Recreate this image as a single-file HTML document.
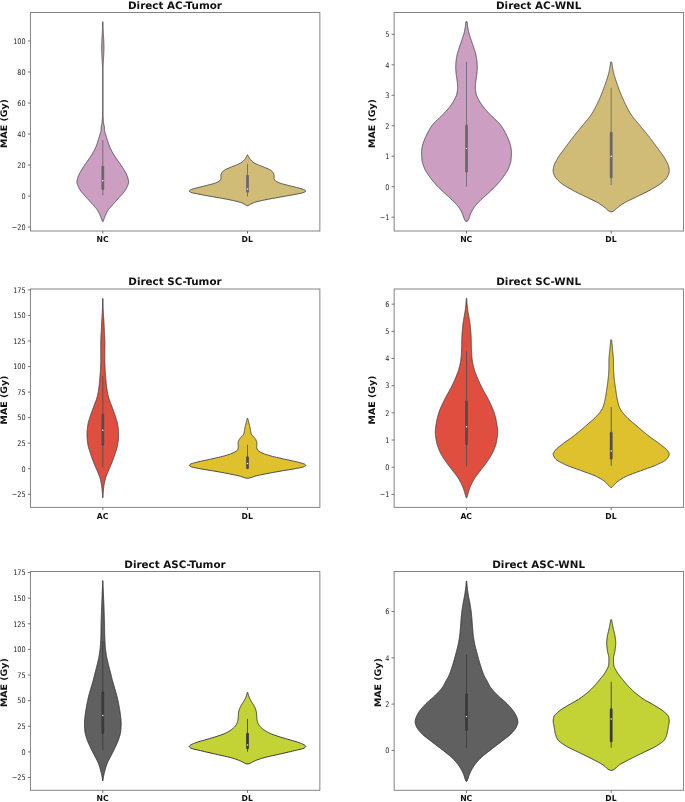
<!DOCTYPE html>
<html lang="en"><head><meta charset="utf-8"><title>Violin plots</title>
<style>
html,body{margin:0;padding:0;background:#fff;}
body{width:685px;height:802px;overflow:hidden;}
svg{display:block;}
text{font-family:"DejaVu Sans", "Liberation Sans", sans-serif;text-rendering:geometricPrecision;}
.t{font-size:10.3px;font-weight:bold;fill:#111;text-anchor:middle;}
.yl{font-size:9px;font-weight:bold;fill:#111;text-anchor:middle;}
.xl{font-size:8.1px;font-weight:bold;fill:#111;text-anchor:middle;}
.yt{font-size:7.6px;fill:#262626;text-anchor:end;}
</style></head><body>
<svg width="685" height="802" viewBox="0 0 685 802">
<rect width="685" height="802" fill="#fff"/>
<g id="a1">
<path d="M102.65 21.81 L102.65 22.31 L102.65 22.81 L102.65 23.31 L102.65 23.81 L102.65 24.31 L102.64 24.81 L102.63 25.31 L102.61 25.81 L102.59 26.31 L102.57 26.81 L102.56 27.31 L102.54 27.81 L102.52 28.31 L102.50 28.81 L102.48 29.31 L102.46 29.81 L102.43 30.31 L102.41 30.81 L102.39 31.31 L102.37 31.81 L102.34 32.31 L102.31 32.81 L102.28 33.31 L102.25 33.81 L102.21 34.31 L102.18 34.81 L102.14 35.31 L102.11 35.81 L102.08 36.31 L102.04 36.81 L102.01 37.31 L101.98 37.81 L101.96 38.31 L101.93 38.81 L101.91 39.31 L101.89 39.81 L101.87 40.31 L101.85 40.81 L101.83 41.31 L101.81 41.81 L101.79 42.31 L101.77 42.81 L101.75 43.31 L101.73 43.81 L101.72 44.31 L101.70 44.81 L101.69 45.31 L101.68 45.81 L101.67 46.31 L101.67 46.81 L101.67 47.31 L101.67 47.81 L101.67 48.31 L101.68 48.81 L101.69 49.31 L101.70 49.81 L101.71 50.31 L101.73 50.81 L101.74 51.31 L101.76 51.81 L101.78 52.31 L101.80 52.81 L101.82 53.31 L101.84 53.81 L101.86 54.31 L101.88 54.81 L101.90 55.31 L101.92 55.81 L101.94 56.31 L101.97 56.81 L101.99 57.31 L102.02 57.81 L102.05 58.31 L102.09 58.81 L102.12 59.31 L102.15 59.81 L102.18 60.31 L102.22 60.81 L102.25 61.31 L102.29 61.81 L102.32 62.31 L102.35 62.81 L102.38 63.31 L102.41 63.81 L102.43 64.31 L102.46 64.81 L102.48 65.31 L102.50 65.81 L102.52 66.31 L102.54 66.81 L102.56 67.31 L102.58 67.81 L102.60 68.31 L102.61 68.81 L102.63 69.31 L102.63 69.81 L102.64 70.31 L102.64 70.81 L102.65 71.31 L102.65 71.81 L102.65 72.31 L102.65 72.81 L102.65 73.31 L102.65 73.81 L102.65 74.31 L102.65 74.81 L102.65 75.31 L102.65 75.81 L102.65 76.31 L102.65 76.81 L102.65 77.31 L102.65 77.81 L102.65 78.31 L102.65 78.81 L102.65 79.31 L102.65 79.81 L102.65 80.31 L102.65 80.81 L102.65 81.31 L102.65 81.81 L102.65 82.31 L102.65 82.81 L102.65 83.31 L102.65 83.81 L102.65 84.31 L102.65 84.81 L102.65 85.31 L102.65 85.81 L102.65 86.31 L102.65 86.81 L102.65 87.31 L102.65 87.81 L102.65 88.31 L102.65 88.81 L102.65 89.31 L102.65 89.81 L102.65 90.31 L102.65 90.81 L102.65 91.31 L102.65 91.81 L102.65 92.31 L102.65 92.81 L102.65 93.31 L102.65 93.81 L102.65 94.31 L102.65 94.81 L102.65 95.31 L102.65 95.81 L102.65 96.31 L102.65 96.81 L102.65 97.31 L102.65 97.81 L102.65 98.31 L102.65 98.81 L102.65 99.31 L102.65 99.81 L102.65 100.31 L102.65 100.81 L102.65 101.31 L102.65 101.81 L102.65 102.31 L102.65 102.81 L102.65 103.31 L102.65 103.81 L102.65 104.31 L102.65 104.81 L102.65 105.31 L102.65 105.81 L102.65 106.31 L102.65 106.81 L102.65 107.31 L102.64 107.81 L102.64 108.31 L102.64 108.81 L102.63 109.31 L102.63 109.81 L102.62 110.31 L102.62 110.81 L102.61 111.31 L102.61 111.81 L102.60 112.31 L102.60 112.81 L102.59 113.31 L102.58 113.81 L102.56 114.31 L102.55 114.81 L102.53 115.31 L102.51 115.81 L102.49 116.31 L102.47 116.81 L102.44 117.31 L102.42 117.81 L102.39 118.31 L102.36 118.81 L102.33 119.31 L102.30 119.81 L102.27 120.31 L102.23 120.81 L102.19 121.31 L102.14 121.81 L102.09 122.31 L102.03 122.81 L101.97 123.31 L101.90 123.81 L101.81 124.31 L101.69 124.81 L101.56 125.31 L101.43 125.81 L101.32 126.31 L101.24 126.81 L101.19 127.31 L101.18 127.81 L101.17 128.31 L101.16 128.81 L101.16 129.31 L101.14 129.81 L101.12 130.31 L101.05 130.81 L100.94 131.31 L100.81 131.81 L100.66 132.31 L100.50 132.81 L100.33 133.31 L100.17 133.81 L100.02 134.31 L99.88 134.81 L99.73 135.31 L99.59 135.81 L99.44 136.31 L99.29 136.81 L99.13 137.31 L98.98 137.81 L98.82 138.31 L98.67 138.81 L98.51 139.31 L98.36 139.81 L98.20 140.31 L98.05 140.81 L97.89 141.31 L97.73 141.81 L97.56 142.31 L97.40 142.81 L97.22 143.31 L97.05 143.81 L96.87 144.31 L96.69 144.81 L96.50 145.31 L96.31 145.81 L96.12 146.31 L95.92 146.81 L95.71 147.31 L95.49 147.81 L95.26 148.31 L95.03 148.81 L94.78 149.31 L94.53 149.81 L94.28 150.31 L94.01 150.81 L93.75 151.31 L93.48 151.81 L93.20 152.31 L92.92 152.81 L92.63 153.31 L92.34 153.81 L92.04 154.31 L91.73 154.81 L91.42 155.31 L91.10 155.81 L90.78 156.31 L90.45 156.81 L90.11 157.31 L89.76 157.81 L89.41 158.31 L89.05 158.81 L88.69 159.31 L88.33 159.81 L87.98 160.31 L87.63 160.81 L87.27 161.31 L86.92 161.81 L86.57 162.31 L86.21 162.81 L85.86 163.31 L85.51 163.81 L85.16 164.31 L84.82 164.81 L84.49 165.31 L84.15 165.81 L83.82 166.31 L83.50 166.81 L83.17 167.31 L82.86 167.81 L82.54 168.31 L82.23 168.81 L81.93 169.31 L81.63 169.81 L81.33 170.31 L81.03 170.81 L80.74 171.31 L80.45 171.81 L80.17 172.31 L79.91 172.81 L79.65 173.31 L79.41 173.81 L79.17 174.31 L78.94 174.81 L78.71 175.31 L78.48 175.81 L78.27 176.31 L78.08 176.81 L77.91 177.31 L77.76 177.81 L77.64 178.31 L77.52 178.81 L77.41 179.31 L77.30 179.81 L77.20 180.31 L77.12 180.81 L77.05 181.31 L77.00 181.81 L76.97 182.31 L76.99 182.81 L77.10 183.31 L77.28 183.81 L77.47 184.31 L77.64 184.81 L77.83 185.31 L78.02 185.81 L78.23 186.31 L78.45 186.81 L78.68 187.31 L78.93 187.81 L79.18 188.31 L79.45 188.81 L79.73 189.31 L80.04 189.81 L80.37 190.31 L80.72 190.81 L81.08 191.31 L81.45 191.81 L81.84 192.31 L82.23 192.81 L82.62 193.31 L83.04 193.81 L83.47 194.31 L83.92 194.81 L84.38 195.31 L84.84 195.81 L85.31 196.31 L85.78 196.81 L86.24 197.31 L86.69 197.81 L87.14 198.31 L87.59 198.81 L88.04 199.31 L88.49 199.81 L88.94 200.31 L89.39 200.81 L89.84 201.31 L90.29 201.81 L90.74 202.31 L91.20 202.81 L91.66 203.31 L92.11 203.81 L92.57 204.31 L93.02 204.81 L93.47 205.31 L93.91 205.81 L94.34 206.31 L94.77 206.81 L95.20 207.31 L95.63 207.81 L96.06 208.31 L96.47 208.81 L96.87 209.31 L97.24 209.81 L97.59 210.31 L97.91 210.81 L98.20 211.31 L98.47 211.81 L98.73 212.31 L98.97 212.81 L99.21 213.31 L99.44 213.81 L99.67 214.31 L99.90 214.81 L100.13 215.31 L100.36 215.81 L100.58 216.31 L100.80 216.81 L101.00 217.31 L101.19 217.81 L101.37 218.31 L101.54 218.81 L101.70 219.31 L101.86 219.81 L102.02 220.31 L102.19 220.81 L102.35 221.31 L102.36 221.33 L103.24 221.33 L103.25 221.31 L103.41 220.81 L103.58 220.31 L103.74 219.81 L103.90 219.31 L104.06 218.81 L104.23 218.31 L104.41 217.81 L104.60 217.31 L104.80 216.81 L105.02 216.31 L105.24 215.81 L105.47 215.31 L105.70 214.81 L105.93 214.31 L106.16 213.81 L106.39 213.31 L106.63 212.81 L106.87 212.31 L107.13 211.81 L107.40 211.31 L107.69 210.81 L108.01 210.31 L108.36 209.81 L108.73 209.31 L109.13 208.81 L109.54 208.31 L109.97 207.81 L110.40 207.31 L110.83 206.81 L111.26 206.31 L111.69 205.81 L112.13 205.31 L112.58 204.81 L113.03 204.31 L113.49 203.81 L113.94 203.31 L114.40 202.81 L114.86 202.31 L115.31 201.81 L115.76 201.31 L116.21 200.81 L116.66 200.31 L117.11 199.81 L117.56 199.31 L118.01 198.81 L118.46 198.31 L118.91 197.81 L119.36 197.31 L119.82 196.81 L120.29 196.31 L120.76 195.81 L121.22 195.31 L121.68 194.81 L122.13 194.31 L122.56 193.81 L122.98 193.31 L123.37 192.81 L123.76 192.31 L124.15 191.81 L124.52 191.31 L124.88 190.81 L125.23 190.31 L125.56 189.81 L125.87 189.31 L126.15 188.81 L126.42 188.31 L126.67 187.81 L126.92 187.31 L127.15 186.81 L127.37 186.31 L127.58 185.81 L127.77 185.31 L127.96 184.81 L128.13 184.31 L128.32 183.81 L128.50 183.31 L128.61 182.81 L128.63 182.31 L128.60 181.81 L128.55 181.31 L128.48 180.81 L128.40 180.31 L128.30 179.81 L128.19 179.31 L128.08 178.81 L127.96 178.31 L127.84 177.81 L127.69 177.31 L127.52 176.81 L127.33 176.31 L127.12 175.81 L126.89 175.31 L126.66 174.81 L126.43 174.31 L126.19 173.81 L125.95 173.31 L125.69 172.81 L125.43 172.31 L125.15 171.81 L124.86 171.31 L124.57 170.81 L124.27 170.31 L123.97 169.81 L123.67 169.31 L123.37 168.81 L123.06 168.31 L122.74 167.81 L122.43 167.31 L122.10 166.81 L121.78 166.31 L121.45 165.81 L121.11 165.31 L120.78 164.81 L120.44 164.31 L120.09 163.81 L119.74 163.31 L119.39 162.81 L119.03 162.31 L118.68 161.81 L118.33 161.31 L117.97 160.81 L117.62 160.31 L117.27 159.81 L116.91 159.31 L116.55 158.81 L116.19 158.31 L115.84 157.81 L115.49 157.31 L115.15 156.81 L114.82 156.31 L114.50 155.81 L114.18 155.31 L113.87 154.81 L113.56 154.31 L113.26 153.81 L112.97 153.31 L112.68 152.81 L112.40 152.31 L112.12 151.81 L111.85 151.31 L111.59 150.81 L111.32 150.31 L111.07 149.81 L110.82 149.31 L110.57 148.81 L110.34 148.31 L110.11 147.81 L109.89 147.31 L109.68 146.81 L109.48 146.31 L109.29 145.81 L109.10 145.31 L108.91 144.81 L108.73 144.31 L108.55 143.81 L108.38 143.31 L108.20 142.81 L108.04 142.31 L107.87 141.81 L107.71 141.31 L107.55 140.81 L107.40 140.31 L107.24 139.81 L107.09 139.31 L106.93 138.81 L106.78 138.31 L106.62 137.81 L106.47 137.31 L106.31 136.81 L106.16 136.31 L106.01 135.81 L105.87 135.31 L105.72 134.81 L105.58 134.31 L105.43 133.81 L105.27 133.31 L105.10 132.81 L104.94 132.31 L104.79 131.81 L104.66 131.31 L104.55 130.81 L104.48 130.31 L104.46 129.81 L104.44 129.31 L104.44 128.81 L104.43 128.31 L104.42 127.81 L104.41 127.31 L104.36 126.81 L104.28 126.31 L104.17 125.81 L104.04 125.31 L103.91 124.81 L103.79 124.31 L103.70 123.81 L103.63 123.31 L103.57 122.81 L103.51 122.31 L103.46 121.81 L103.41 121.31 L103.37 120.81 L103.33 120.31 L103.30 119.81 L103.27 119.31 L103.24 118.81 L103.21 118.31 L103.18 117.81 L103.16 117.31 L103.13 116.81 L103.11 116.31 L103.09 115.81 L103.07 115.31 L103.05 114.81 L103.04 114.31 L103.02 113.81 L103.01 113.31 L103.00 112.81 L103.00 112.31 L102.99 111.81 L102.99 111.31 L102.98 110.81 L102.98 110.31 L102.97 109.81 L102.97 109.31 L102.96 108.81 L102.96 108.31 L102.96 107.81 L102.95 107.31 L102.95 106.81 L102.95 106.31 L102.95 105.81 L102.95 105.31 L102.95 104.81 L102.95 104.31 L102.95 103.81 L102.95 103.31 L102.95 102.81 L102.95 102.31 L102.95 101.81 L102.95 101.31 L102.95 100.81 L102.95 100.31 L102.95 99.81 L102.95 99.31 L102.95 98.81 L102.95 98.31 L102.95 97.81 L102.95 97.31 L102.95 96.81 L102.95 96.31 L102.95 95.81 L102.95 95.31 L102.95 94.81 L102.95 94.31 L102.95 93.81 L102.95 93.31 L102.95 92.81 L102.95 92.31 L102.95 91.81 L102.95 91.31 L102.95 90.81 L102.95 90.31 L102.95 89.81 L102.95 89.31 L102.95 88.81 L102.95 88.31 L102.95 87.81 L102.95 87.31 L102.95 86.81 L102.95 86.31 L102.95 85.81 L102.95 85.31 L102.95 84.81 L102.95 84.31 L102.95 83.81 L102.95 83.31 L102.95 82.81 L102.95 82.31 L102.95 81.81 L102.95 81.31 L102.95 80.81 L102.95 80.31 L102.95 79.81 L102.95 79.31 L102.95 78.81 L102.95 78.31 L102.95 77.81 L102.95 77.31 L102.95 76.81 L102.95 76.31 L102.95 75.81 L102.95 75.31 L102.95 74.81 L102.95 74.31 L102.95 73.81 L102.95 73.31 L102.95 72.81 L102.95 72.31 L102.95 71.81 L102.95 71.31 L102.96 70.81 L102.96 70.31 L102.97 69.81 L102.97 69.31 L102.99 68.81 L103.00 68.31 L103.02 67.81 L103.04 67.31 L103.06 66.81 L103.08 66.31 L103.10 65.81 L103.12 65.31 L103.14 64.81 L103.17 64.31 L103.19 63.81 L103.22 63.31 L103.25 62.81 L103.28 62.31 L103.31 61.81 L103.35 61.31 L103.38 60.81 L103.42 60.31 L103.45 59.81 L103.48 59.31 L103.51 58.81 L103.55 58.31 L103.58 57.81 L103.61 57.31 L103.63 56.81 L103.66 56.31 L103.68 55.81 L103.70 55.31 L103.72 54.81 L103.74 54.31 L103.76 53.81 L103.78 53.31 L103.80 52.81 L103.82 52.31 L103.84 51.81 L103.86 51.31 L103.87 50.81 L103.89 50.31 L103.90 49.81 L103.91 49.31 L103.92 48.81 L103.93 48.31 L103.93 47.81 L103.93 47.31 L103.93 46.81 L103.93 46.31 L103.92 45.81 L103.91 45.31 L103.90 44.81 L103.88 44.31 L103.87 43.81 L103.85 43.31 L103.83 42.81 L103.81 42.31 L103.79 41.81 L103.77 41.31 L103.75 40.81 L103.73 40.31 L103.71 39.81 L103.69 39.31 L103.67 38.81 L103.64 38.31 L103.62 37.81 L103.59 37.31 L103.56 36.81 L103.52 36.31 L103.49 35.81 L103.46 35.31 L103.42 34.81 L103.39 34.31 L103.35 33.81 L103.32 33.31 L103.29 32.81 L103.26 32.31 L103.23 31.81 L103.21 31.31 L103.19 30.81 L103.17 30.31 L103.14 29.81 L103.12 29.31 L103.10 28.81 L103.08 28.31 L103.06 27.81 L103.04 27.31 L103.03 26.81 L103.01 26.31 L102.99 25.81 L102.97 25.31 L102.96 24.81 L102.95 24.31 L102.95 23.81 L102.95 23.31 L102.95 22.81 L102.95 22.31 L102.95 21.81 Z" fill="#CB9EC2" stroke="#505050" stroke-width="0.95" stroke-linejoin="round"/>
<line x1="102.80" x2="102.80" y1="140.00" y2="195.40" stroke="#686868" stroke-width="0.85"/>
<line x1="102.80" x2="102.80" y1="167.10" y2="188.80" stroke="#686868" stroke-width="2.75" stroke-linecap="round"/>
<circle cx="102.80" cy="180.70" r="0.75" fill="#fff"/>
<path d="M247.19 154.90 L247.02 155.40 L246.82 155.90 L246.59 156.40 L246.33 156.90 L246.05 157.40 L245.75 157.90 L245.44 158.40 L245.11 158.90 L244.75 159.40 L244.37 159.90 L243.94 160.40 L243.47 160.90 L242.95 161.40 L242.38 161.90 L241.70 162.40 L240.86 162.90 L239.88 163.40 L238.81 163.90 L237.69 164.40 L236.55 164.90 L235.41 165.40 L234.17 165.90 L232.87 166.40 L231.58 166.90 L230.33 167.40 L229.15 167.90 L227.94 168.40 L226.77 168.90 L225.72 169.40 L224.85 169.90 L224.12 170.40 L223.44 170.90 L222.85 171.40 L222.36 171.90 L221.99 172.40 L221.74 172.90 L221.50 173.40 L221.28 173.90 L221.11 174.40 L220.99 174.90 L220.93 175.40 L220.93 175.90 L220.93 176.40 L220.93 176.90 L220.93 177.40 L220.93 177.90 L220.93 178.40 L220.90 178.90 L220.69 179.40 L220.35 179.90 L219.93 180.40 L219.45 180.90 L218.74 181.40 L217.83 181.90 L216.77 182.40 L215.62 182.90 L214.25 183.40 L212.59 183.90 L210.74 184.40 L208.77 184.90 L206.79 185.40 L204.86 185.90 L202.84 186.40 L200.74 186.90 L198.65 187.40 L196.67 187.90 L194.89 188.40 L193.13 188.90 L191.48 189.40 L190.29 189.90 L189.67 190.40 L189.29 190.90 L189.41 191.40 L190.11 191.90 L191.09 192.40 L192.59 192.90 L194.83 193.40 L197.44 193.90 L200.06 194.40 L202.62 194.90 L205.36 195.40 L208.20 195.90 L211.08 196.40 L213.93 196.90 L216.69 197.40 L219.48 197.90 L222.29 198.40 L225.05 198.90 L227.70 199.40 L230.17 199.90 L232.47 200.40 L234.74 200.90 L236.91 201.40 L238.87 201.90 L240.54 202.40 L241.86 202.90 L242.96 203.40 L243.91 203.90 L244.79 204.40 L245.66 204.90 L246.46 205.40 L246.89 205.69 L248.11 205.69 L248.54 205.40 L249.34 204.90 L250.21 204.40 L251.09 203.90 L252.04 203.40 L253.14 202.90 L254.46 202.40 L256.13 201.90 L258.09 201.40 L260.26 200.90 L262.53 200.40 L264.83 199.90 L267.30 199.40 L269.95 198.90 L272.71 198.40 L275.52 197.90 L278.31 197.40 L281.07 196.90 L283.92 196.40 L286.80 195.90 L289.64 195.40 L292.38 194.90 L294.94 194.40 L297.56 193.90 L300.17 193.40 L302.41 192.90 L303.91 192.40 L304.89 191.90 L305.59 191.40 L305.71 190.90 L305.33 190.40 L304.71 189.90 L303.52 189.40 L301.87 188.90 L300.11 188.40 L298.33 187.90 L296.35 187.40 L294.26 186.90 L292.16 186.40 L290.14 185.90 L288.21 185.40 L286.23 184.90 L284.26 184.40 L282.41 183.90 L280.75 183.40 L279.38 182.90 L278.23 182.40 L277.17 181.90 L276.26 181.40 L275.55 180.90 L275.07 180.40 L274.65 179.90 L274.31 179.40 L274.10 178.90 L274.07 178.40 L274.07 177.90 L274.07 177.40 L274.07 176.90 L274.07 176.40 L274.07 175.90 L274.07 175.40 L274.01 174.90 L273.89 174.40 L273.72 173.90 L273.50 173.40 L273.26 172.90 L273.01 172.40 L272.64 171.90 L272.15 171.40 L271.56 170.90 L270.88 170.40 L270.15 169.90 L269.28 169.40 L268.23 168.90 L267.06 168.40 L265.85 167.90 L264.67 167.40 L263.42 166.90 L262.13 166.40 L260.83 165.90 L259.59 165.40 L258.45 164.90 L257.31 164.40 L256.19 163.90 L255.12 163.40 L254.14 162.90 L253.30 162.40 L252.62 161.90 L252.05 161.40 L251.53 160.90 L251.06 160.40 L250.63 159.90 L250.25 159.40 L249.89 158.90 L249.56 158.40 L249.25 157.90 L248.95 157.40 L248.67 156.90 L248.41 156.40 L248.18 155.90 L247.98 155.40 L247.81 154.90 Z" fill="#D0BC76" stroke="#505050" stroke-width="0.95" stroke-linejoin="round"/>
<line x1="247.50" x2="247.50" y1="163.80" y2="196.50" stroke="#686868" stroke-width="0.85"/>
<line x1="247.50" x2="247.50" y1="176.00" y2="191.40" stroke="#686868" stroke-width="2.75" stroke-linecap="round"/>
<circle cx="247.50" cy="189.00" r="0.75" fill="#fff"/>
<rect x="30.45" y="12.50" width="289.40" height="218.50" fill="none" stroke="#848484" stroke-width="1"/>
<line x1="27.85" x2="30.45" y1="227.07" y2="227.07" stroke="#555" stroke-width="0.8"/><text class="yt" transform="translate(25.65 229.87) scale(0.86 1)">−20</text>
<line x1="27.85" x2="30.45" y1="196.05" y2="196.05" stroke="#555" stroke-width="0.8"/><text class="yt" transform="translate(25.65 198.85) scale(0.86 1)">0</text>
<line x1="27.85" x2="30.45" y1="165.03" y2="165.03" stroke="#555" stroke-width="0.8"/><text class="yt" transform="translate(25.65 167.83) scale(0.86 1)">20</text>
<line x1="27.85" x2="30.45" y1="134.02" y2="134.02" stroke="#555" stroke-width="0.8"/><text class="yt" transform="translate(25.65 136.82) scale(0.86 1)">40</text>
<line x1="27.85" x2="30.45" y1="103.00" y2="103.00" stroke="#555" stroke-width="0.8"/><text class="yt" transform="translate(25.65 105.80) scale(0.86 1)">60</text>
<line x1="27.85" x2="30.45" y1="71.99" y2="71.99" stroke="#555" stroke-width="0.8"/><text class="yt" transform="translate(25.65 74.79) scale(0.86 1)">80</text>
<line x1="27.85" x2="30.45" y1="40.97" y2="40.97" stroke="#555" stroke-width="0.8"/><text class="yt" transform="translate(25.65 43.77) scale(0.86 1)">100</text>
<line x1="102.80" x2="102.80" y1="231.00" y2="233.60" stroke="#555" stroke-width="0.8"/><text class="xl" transform="translate(102.50 242.10) scale(0.95 1)">NC</text>
<line x1="247.50" x2="247.50" y1="231.00" y2="233.60" stroke="#555" stroke-width="0.8"/><text class="xl" transform="translate(247.20 242.10) scale(0.95 1)">DL</text>
<text class="t" transform="translate(174.95 8.70) scale(1.005 1)">Direct AC-Tumor</text>
<text class="yl" transform="translate(7.40 123.55) rotate(-90) scale(1.045 1)">MAE (Gy)</text>
</g>
<g id="a2">
<path d="M465.86 21.74 L465.83 22.24 L465.79 22.74 L465.75 23.24 L465.71 23.74 L465.66 24.24 L465.60 24.74 L465.54 25.24 L465.47 25.74 L465.40 26.24 L465.33 26.74 L465.25 27.24 L465.17 27.74 L465.09 28.24 L465.00 28.74 L464.91 29.24 L464.82 29.74 L464.73 30.24 L464.63 30.74 L464.54 31.24 L464.43 31.74 L464.31 32.24 L464.19 32.74 L464.05 33.24 L463.91 33.74 L463.76 34.24 L463.60 34.74 L463.44 35.24 L463.28 35.74 L463.11 36.24 L462.94 36.74 L462.77 37.24 L462.61 37.74 L462.44 38.24 L462.27 38.74 L462.11 39.24 L461.95 39.74 L461.79 40.24 L461.62 40.74 L461.45 41.24 L461.27 41.74 L461.10 42.24 L460.92 42.74 L460.75 43.24 L460.57 43.74 L460.40 44.24 L460.23 44.74 L460.05 45.24 L459.89 45.74 L459.72 46.24 L459.55 46.74 L459.39 47.24 L459.23 47.74 L459.07 48.24 L458.90 48.74 L458.73 49.24 L458.56 49.74 L458.39 50.24 L458.23 50.74 L458.07 51.24 L457.91 51.74 L457.75 52.24 L457.61 52.74 L457.47 53.24 L457.34 53.74 L457.22 54.24 L457.11 54.74 L457.01 55.24 L456.91 55.74 L456.82 56.24 L456.73 56.74 L456.64 57.24 L456.55 57.74 L456.47 58.24 L456.39 58.74 L456.31 59.24 L456.24 59.74 L456.17 60.24 L456.11 60.74 L456.05 61.24 L456.01 61.74 L455.96 62.24 L455.93 62.74 L455.90 63.24 L455.87 63.74 L455.85 64.24 L455.82 64.74 L455.80 65.24 L455.78 65.74 L455.77 66.24 L455.75 66.74 L455.75 67.24 L455.74 67.74 L455.74 68.24 L455.75 68.74 L455.77 69.24 L455.79 69.74 L455.83 70.24 L455.86 70.74 L455.91 71.24 L455.95 71.74 L456.00 72.24 L456.05 72.74 L456.10 73.24 L456.16 73.74 L456.21 74.24 L456.26 74.74 L456.31 75.24 L456.38 75.74 L456.45 76.24 L456.52 76.74 L456.60 77.24 L456.68 77.74 L456.76 78.24 L456.84 78.74 L456.92 79.24 L457.00 79.74 L457.08 80.24 L457.15 80.74 L457.22 81.24 L457.28 81.74 L457.33 82.24 L457.37 82.74 L457.42 83.24 L457.46 83.74 L457.51 84.24 L457.55 84.74 L457.59 85.24 L457.62 85.74 L457.65 86.24 L457.66 86.74 L457.67 87.24 L457.66 87.74 L457.64 88.24 L457.61 88.74 L457.57 89.24 L457.51 89.74 L457.45 90.24 L457.38 90.74 L457.31 91.24 L457.22 91.74 L457.14 92.24 L457.04 92.74 L456.95 93.24 L456.85 93.74 L456.74 94.24 L456.60 94.74 L456.44 95.24 L456.25 95.74 L456.05 96.24 L455.83 96.74 L455.60 97.24 L455.36 97.74 L455.10 98.24 L454.85 98.74 L454.59 99.24 L454.33 99.74 L454.07 100.24 L453.80 100.74 L453.52 101.24 L453.22 101.74 L452.92 102.24 L452.60 102.74 L452.27 103.24 L451.94 103.74 L451.59 104.24 L451.24 104.74 L450.88 105.24 L450.52 105.74 L450.14 106.24 L449.77 106.74 L449.39 107.24 L449.00 107.74 L448.60 108.24 L448.19 108.74 L447.77 109.24 L447.34 109.74 L446.89 110.24 L446.45 110.74 L445.99 111.24 L445.53 111.74 L445.06 112.24 L444.59 112.74 L444.11 113.24 L443.64 113.74 L443.16 114.24 L442.68 114.74 L442.21 115.24 L441.73 115.74 L441.23 116.24 L440.72 116.74 L440.20 117.24 L439.67 117.74 L439.13 118.24 L438.58 118.74 L438.04 119.24 L437.49 119.74 L436.95 120.24 L436.41 120.74 L435.88 121.24 L435.36 121.74 L434.86 122.24 L434.37 122.74 L433.90 123.24 L433.45 123.74 L433.03 124.24 L432.63 124.74 L432.26 125.24 L431.90 125.74 L431.54 126.24 L431.20 126.74 L430.86 127.24 L430.53 127.74 L430.21 128.24 L429.90 128.74 L429.59 129.24 L429.29 129.74 L429.00 130.24 L428.71 130.74 L428.43 131.24 L428.15 131.74 L427.89 132.24 L427.63 132.74 L427.37 133.24 L427.12 133.74 L426.87 134.24 L426.64 134.74 L426.40 135.24 L426.17 135.74 L425.95 136.24 L425.72 136.74 L425.50 137.24 L425.28 137.74 L425.06 138.24 L424.85 138.74 L424.64 139.24 L424.43 139.74 L424.22 140.24 L424.03 140.74 L423.84 141.24 L423.65 141.74 L423.47 142.24 L423.30 142.74 L423.14 143.24 L422.99 143.74 L422.85 144.24 L422.72 144.74 L422.60 145.24 L422.49 145.74 L422.38 146.24 L422.28 146.74 L422.17 147.24 L422.07 147.74 L421.97 148.24 L421.88 148.74 L421.79 149.24 L421.72 149.74 L421.65 150.24 L421.60 150.74 L421.56 151.24 L421.54 151.74 L421.53 152.24 L421.54 152.74 L421.55 153.24 L421.56 153.74 L421.58 154.24 L421.60 154.74 L421.62 155.24 L421.65 155.74 L421.68 156.24 L421.72 156.74 L421.75 157.24 L421.79 157.74 L421.84 158.24 L421.88 158.74 L421.93 159.24 L421.98 159.74 L422.03 160.24 L422.09 160.74 L422.17 161.24 L422.26 161.74 L422.38 162.24 L422.50 162.74 L422.64 163.24 L422.79 163.74 L422.95 164.24 L423.11 164.74 L423.29 165.24 L423.47 165.74 L423.66 166.24 L423.86 166.74 L424.05 167.24 L424.25 167.74 L424.45 168.24 L424.66 168.74 L424.89 169.24 L425.14 169.74 L425.40 170.24 L425.68 170.74 L425.97 171.24 L426.27 171.74 L426.58 172.24 L426.90 172.74 L427.23 173.24 L427.56 173.74 L427.90 174.24 L428.24 174.74 L428.58 175.24 L428.93 175.74 L429.27 176.24 L429.62 176.74 L429.97 177.24 L430.34 177.74 L430.71 178.24 L431.09 178.74 L431.48 179.24 L431.87 179.74 L432.27 180.24 L432.68 180.74 L433.09 181.24 L433.51 181.74 L433.93 182.24 L434.36 182.74 L434.79 183.24 L435.23 183.74 L435.67 184.24 L436.12 184.74 L436.58 185.24 L437.05 185.74 L437.53 186.24 L438.02 186.74 L438.51 187.24 L439.01 187.74 L439.52 188.24 L440.03 188.74 L440.54 189.24 L441.06 189.74 L441.58 190.24 L442.10 190.74 L442.63 191.24 L443.15 191.74 L443.67 192.24 L444.20 192.74 L444.75 193.24 L445.30 193.74 L445.86 194.24 L446.42 194.74 L446.99 195.24 L447.57 195.74 L448.14 196.24 L448.71 196.74 L449.27 197.24 L449.83 197.74 L450.39 198.24 L450.93 198.74 L451.46 199.24 L451.98 199.74 L452.48 200.24 L452.97 200.74 L453.46 201.24 L453.95 201.74 L454.43 202.24 L454.91 202.74 L455.39 203.24 L455.85 203.74 L456.31 204.24 L456.75 204.74 L457.19 205.24 L457.60 205.74 L458.01 206.24 L458.39 206.74 L458.76 207.24 L459.10 207.74 L459.44 208.24 L459.76 208.74 L460.08 209.24 L460.38 209.74 L460.68 210.24 L460.96 210.74 L461.23 211.24 L461.49 211.74 L461.74 212.24 L461.98 212.74 L462.21 213.24 L462.42 213.74 L462.62 214.24 L462.80 214.74 L462.97 215.24 L463.14 215.74 L463.31 216.24 L463.47 216.74 L463.65 217.24 L463.83 217.74 L464.03 218.24 L464.24 218.74 L464.48 219.24 L464.73 219.74 L465.01 220.24 L465.29 220.74 L465.54 221.17 L467.46 221.17 L467.71 220.74 L467.99 220.24 L468.27 219.74 L468.52 219.24 L468.76 218.74 L468.97 218.24 L469.17 217.74 L469.35 217.24 L469.53 216.74 L469.69 216.24 L469.86 215.74 L470.03 215.24 L470.20 214.74 L470.38 214.24 L470.58 213.74 L470.79 213.24 L471.02 212.74 L471.26 212.24 L471.51 211.74 L471.77 211.24 L472.04 210.74 L472.32 210.24 L472.62 209.74 L472.92 209.24 L473.24 208.74 L473.56 208.24 L473.90 207.74 L474.24 207.24 L474.61 206.74 L474.99 206.24 L475.40 205.74 L475.81 205.24 L476.25 204.74 L476.69 204.24 L477.15 203.74 L477.61 203.24 L478.09 202.74 L478.57 202.24 L479.05 201.74 L479.54 201.24 L480.03 200.74 L480.52 200.24 L481.02 199.74 L481.54 199.24 L482.07 198.74 L482.61 198.24 L483.17 197.74 L483.73 197.24 L484.29 196.74 L484.86 196.24 L485.43 195.74 L486.01 195.24 L486.58 194.74 L487.14 194.24 L487.70 193.74 L488.25 193.24 L488.80 192.74 L489.33 192.24 L489.85 191.74 L490.37 191.24 L490.90 190.74 L491.42 190.24 L491.94 189.74 L492.46 189.24 L492.97 188.74 L493.48 188.24 L493.99 187.74 L494.49 187.24 L494.98 186.74 L495.47 186.24 L495.95 185.74 L496.42 185.24 L496.88 184.74 L497.33 184.24 L497.77 183.74 L498.21 183.24 L498.64 182.74 L499.07 182.24 L499.49 181.74 L499.91 181.24 L500.32 180.74 L500.73 180.24 L501.13 179.74 L501.52 179.24 L501.91 178.74 L502.29 178.24 L502.66 177.74 L503.03 177.24 L503.38 176.74 L503.73 176.24 L504.07 175.74 L504.42 175.24 L504.76 174.74 L505.10 174.24 L505.44 173.74 L505.77 173.24 L506.10 172.74 L506.42 172.24 L506.73 171.74 L507.03 171.24 L507.32 170.74 L507.60 170.24 L507.86 169.74 L508.11 169.24 L508.34 168.74 L508.55 168.24 L508.75 167.74 L508.95 167.24 L509.14 166.74 L509.34 166.24 L509.53 165.74 L509.71 165.24 L509.89 164.74 L510.05 164.24 L510.21 163.74 L510.36 163.24 L510.50 162.74 L510.62 162.24 L510.74 161.74 L510.83 161.24 L510.91 160.74 L510.97 160.24 L511.02 159.74 L511.07 159.24 L511.12 158.74 L511.16 158.24 L511.21 157.74 L511.25 157.24 L511.28 156.74 L511.32 156.24 L511.35 155.74 L511.38 155.24 L511.40 154.74 L511.42 154.24 L511.44 153.74 L511.45 153.24 L511.46 152.74 L511.47 152.24 L511.46 151.74 L511.44 151.24 L511.40 150.74 L511.35 150.24 L511.28 149.74 L511.21 149.24 L511.12 148.74 L511.03 148.24 L510.93 147.74 L510.83 147.24 L510.72 146.74 L510.62 146.24 L510.51 145.74 L510.40 145.24 L510.28 144.74 L510.15 144.24 L510.01 143.74 L509.86 143.24 L509.70 142.74 L509.53 142.24 L509.35 141.74 L509.16 141.24 L508.97 140.74 L508.78 140.24 L508.57 139.74 L508.36 139.24 L508.15 138.74 L507.94 138.24 L507.72 137.74 L507.50 137.24 L507.28 136.74 L507.05 136.24 L506.83 135.74 L506.60 135.24 L506.36 134.74 L506.13 134.24 L505.88 133.74 L505.63 133.24 L505.37 132.74 L505.11 132.24 L504.85 131.74 L504.57 131.24 L504.29 130.74 L504.00 130.24 L503.71 129.74 L503.41 129.24 L503.10 128.74 L502.79 128.24 L502.47 127.74 L502.14 127.24 L501.80 126.74 L501.46 126.24 L501.10 125.74 L500.74 125.24 L500.37 124.74 L499.97 124.24 L499.55 123.74 L499.10 123.24 L498.63 122.74 L498.14 122.24 L497.64 121.74 L497.12 121.24 L496.59 120.74 L496.05 120.24 L495.51 119.74 L494.96 119.24 L494.42 118.74 L493.87 118.24 L493.33 117.74 L492.80 117.24 L492.28 116.74 L491.77 116.24 L491.27 115.74 L490.79 115.24 L490.32 114.74 L489.84 114.24 L489.36 113.74 L488.89 113.24 L488.41 112.74 L487.94 112.24 L487.47 111.74 L487.01 111.24 L486.55 110.74 L486.11 110.24 L485.66 109.74 L485.23 109.24 L484.81 108.74 L484.40 108.24 L484.00 107.74 L483.61 107.24 L483.23 106.74 L482.86 106.24 L482.48 105.74 L482.12 105.24 L481.76 104.74 L481.41 104.24 L481.06 103.74 L480.73 103.24 L480.40 102.74 L480.08 102.24 L479.78 101.74 L479.48 101.24 L479.20 100.74 L478.93 100.24 L478.67 99.74 L478.41 99.24 L478.15 98.74 L477.90 98.24 L477.64 97.74 L477.40 97.24 L477.17 96.74 L476.95 96.24 L476.75 95.74 L476.56 95.24 L476.40 94.74 L476.26 94.24 L476.15 93.74 L476.05 93.24 L475.96 92.74 L475.86 92.24 L475.78 91.74 L475.69 91.24 L475.62 90.74 L475.55 90.24 L475.49 89.74 L475.43 89.24 L475.39 88.74 L475.36 88.24 L475.34 87.74 L475.33 87.24 L475.34 86.74 L475.35 86.24 L475.38 85.74 L475.41 85.24 L475.45 84.74 L475.49 84.24 L475.54 83.74 L475.58 83.24 L475.63 82.74 L475.67 82.24 L475.72 81.74 L475.78 81.24 L475.85 80.74 L475.92 80.24 L476.00 79.74 L476.08 79.24 L476.16 78.74 L476.24 78.24 L476.32 77.74 L476.40 77.24 L476.48 76.74 L476.55 76.24 L476.62 75.74 L476.69 75.24 L476.74 74.74 L476.79 74.24 L476.84 73.74 L476.90 73.24 L476.95 72.74 L477.00 72.24 L477.05 71.74 L477.09 71.24 L477.14 70.74 L477.17 70.24 L477.21 69.74 L477.23 69.24 L477.25 68.74 L477.26 68.24 L477.26 67.74 L477.25 67.24 L477.25 66.74 L477.23 66.24 L477.22 65.74 L477.20 65.24 L477.18 64.74 L477.15 64.24 L477.13 63.74 L477.10 63.24 L477.07 62.74 L477.04 62.24 L476.99 61.74 L476.95 61.24 L476.89 60.74 L476.83 60.24 L476.76 59.74 L476.69 59.24 L476.61 58.74 L476.53 58.24 L476.45 57.74 L476.36 57.24 L476.27 56.74 L476.18 56.24 L476.09 55.74 L475.99 55.24 L475.89 54.74 L475.78 54.24 L475.66 53.74 L475.53 53.24 L475.39 52.74 L475.25 52.24 L475.09 51.74 L474.93 51.24 L474.77 50.74 L474.61 50.24 L474.44 49.74 L474.27 49.24 L474.10 48.74 L473.93 48.24 L473.77 47.74 L473.61 47.24 L473.45 46.74 L473.28 46.24 L473.11 45.74 L472.95 45.24 L472.77 44.74 L472.60 44.24 L472.43 43.74 L472.25 43.24 L472.08 42.74 L471.90 42.24 L471.73 41.74 L471.55 41.24 L471.38 40.74 L471.21 40.24 L471.05 39.74 L470.89 39.24 L470.73 38.74 L470.56 38.24 L470.39 37.74 L470.23 37.24 L470.06 36.74 L469.89 36.24 L469.72 35.74 L469.56 35.24 L469.40 34.74 L469.24 34.24 L469.09 33.74 L468.95 33.24 L468.81 32.74 L468.69 32.24 L468.57 31.74 L468.46 31.24 L468.37 30.74 L468.27 30.24 L468.18 29.74 L468.09 29.24 L468.00 28.74 L467.91 28.24 L467.83 27.74 L467.75 27.24 L467.67 26.74 L467.60 26.24 L467.53 25.74 L467.46 25.24 L467.40 24.74 L467.34 24.24 L467.29 23.74 L467.25 23.24 L467.21 22.74 L467.17 22.24 L467.14 21.74 Z" fill="#CB9EC2" stroke="#505050" stroke-width="0.95" stroke-linejoin="round"/>
<line x1="466.50" x2="466.50" y1="61.90" y2="186.60" stroke="#686868" stroke-width="0.85"/>
<line x1="466.50" x2="466.50" y1="125.80" y2="171.20" stroke="#686868" stroke-width="2.75" stroke-linecap="round"/>
<circle cx="466.50" cy="148.60" r="0.75" fill="#fff"/>
<path d="M610.58 62.20 L610.54 62.70 L610.49 63.20 L610.43 63.70 L610.37 64.20 L610.31 64.70 L610.24 65.20 L610.17 65.70 L610.10 66.20 L610.02 66.70 L609.94 67.20 L609.85 67.70 L609.77 68.20 L609.68 68.70 L609.58 69.20 L609.49 69.70 L609.39 70.20 L609.30 70.70 L609.20 71.20 L609.09 71.70 L608.98 72.20 L608.87 72.70 L608.74 73.20 L608.61 73.70 L608.48 74.20 L608.34 74.70 L608.19 75.20 L608.04 75.70 L607.89 76.20 L607.73 76.70 L607.57 77.20 L607.41 77.70 L607.24 78.20 L607.07 78.70 L606.91 79.20 L606.74 79.70 L606.57 80.20 L606.40 80.70 L606.24 81.20 L606.07 81.70 L605.91 82.20 L605.74 82.70 L605.57 83.20 L605.40 83.70 L605.23 84.20 L605.06 84.70 L604.88 85.20 L604.71 85.70 L604.53 86.20 L604.35 86.70 L604.17 87.20 L603.99 87.70 L603.81 88.20 L603.62 88.70 L603.44 89.20 L603.25 89.70 L603.06 90.20 L602.87 90.70 L602.68 91.20 L602.48 91.70 L602.29 92.20 L602.09 92.70 L601.89 93.20 L601.69 93.70 L601.48 94.20 L601.28 94.70 L601.07 95.20 L600.86 95.70 L600.65 96.20 L600.44 96.70 L600.22 97.20 L600.01 97.70 L599.79 98.20 L599.56 98.70 L599.34 99.20 L599.11 99.70 L598.89 100.20 L598.66 100.70 L598.42 101.20 L598.19 101.70 L597.95 102.20 L597.71 102.70 L597.47 103.20 L597.23 103.70 L596.98 104.20 L596.74 104.70 L596.49 105.20 L596.24 105.70 L595.99 106.20 L595.73 106.70 L595.48 107.20 L595.22 107.70 L594.96 108.20 L594.70 108.70 L594.44 109.20 L594.17 109.70 L593.90 110.20 L593.62 110.70 L593.34 111.20 L593.06 111.70 L592.77 112.20 L592.47 112.70 L592.17 113.20 L591.86 113.70 L591.54 114.20 L591.22 114.70 L590.88 115.20 L590.54 115.70 L590.18 116.20 L589.81 116.70 L589.43 117.20 L589.04 117.70 L588.64 118.20 L588.24 118.70 L587.83 119.20 L587.41 119.70 L587.00 120.20 L586.58 120.70 L586.15 121.20 L585.73 121.70 L585.30 122.20 L584.88 122.70 L584.46 123.20 L584.04 123.70 L583.62 124.20 L583.21 124.70 L582.81 125.20 L582.40 125.70 L581.99 126.20 L581.58 126.70 L581.17 127.20 L580.76 127.70 L580.34 128.20 L579.93 128.70 L579.51 129.20 L579.10 129.70 L578.68 130.20 L578.27 130.70 L577.86 131.20 L577.44 131.70 L577.03 132.20 L576.62 132.70 L576.21 133.20 L575.80 133.70 L575.40 134.20 L575.00 134.70 L574.60 135.20 L574.20 135.70 L573.81 136.20 L573.41 136.70 L573.02 137.20 L572.64 137.70 L572.25 138.20 L571.87 138.70 L571.48 139.20 L571.10 139.70 L570.72 140.20 L570.34 140.70 L569.96 141.20 L569.59 141.70 L569.21 142.20 L568.84 142.70 L568.46 143.20 L568.09 143.70 L567.72 144.20 L567.35 144.70 L566.98 145.20 L566.62 145.70 L566.25 146.20 L565.88 146.70 L565.52 147.20 L565.16 147.70 L564.79 148.20 L564.43 148.70 L564.07 149.20 L563.70 149.70 L563.32 150.20 L562.95 150.70 L562.57 151.20 L562.20 151.70 L561.82 152.20 L561.44 152.70 L561.07 153.20 L560.70 153.70 L560.34 154.20 L559.98 154.70 L559.63 155.20 L559.28 155.70 L558.94 156.20 L558.61 156.70 L558.29 157.20 L557.98 157.70 L557.69 158.20 L557.40 158.70 L557.13 159.20 L556.85 159.70 L556.57 160.20 L556.29 160.70 L556.01 161.20 L555.73 161.70 L555.46 162.20 L555.20 162.70 L554.95 163.20 L554.71 163.70 L554.49 164.20 L554.28 164.70 L554.09 165.20 L553.93 165.70 L553.79 166.20 L553.67 166.70 L553.59 167.20 L553.51 167.70 L553.44 168.20 L553.37 168.70 L553.31 169.20 L553.26 169.70 L553.22 170.20 L553.20 170.70 L553.19 171.20 L553.21 171.70 L553.27 172.20 L553.37 172.70 L553.51 173.20 L553.67 173.70 L553.86 174.20 L554.07 174.70 L554.29 175.20 L554.52 175.70 L554.75 176.20 L555.00 176.70 L555.28 177.20 L555.62 177.70 L555.99 178.20 L556.40 178.70 L556.85 179.20 L557.32 179.70 L557.82 180.20 L558.34 180.70 L558.88 181.20 L559.43 181.70 L560.00 182.20 L560.57 182.70 L561.17 183.20 L561.82 183.70 L562.51 184.20 L563.23 184.70 L563.98 185.20 L564.76 185.70 L565.57 186.20 L566.40 186.70 L567.25 187.20 L568.11 187.70 L568.98 188.20 L569.86 188.70 L570.74 189.20 L571.62 189.70 L572.51 190.20 L573.44 190.70 L574.39 191.20 L575.36 191.70 L576.35 192.20 L577.36 192.70 L578.39 193.20 L579.42 193.70 L580.45 194.20 L581.49 194.70 L582.53 195.20 L583.57 195.70 L584.59 196.20 L585.61 196.70 L586.61 197.20 L587.64 197.70 L588.68 198.20 L589.74 198.70 L590.80 199.20 L591.86 199.70 L592.90 200.20 L593.93 200.70 L594.94 201.20 L595.91 201.70 L596.85 202.20 L597.74 202.70 L598.58 203.20 L599.38 203.70 L600.15 204.20 L600.89 204.70 L601.61 205.20 L602.31 205.70 L602.99 206.20 L603.65 206.70 L604.30 207.20 L604.94 207.70 L605.57 208.20 L606.16 208.70 L606.69 209.20 L607.20 209.70 L607.75 210.20 L608.39 210.70 L609.19 211.20 L610.25 211.70 L610.38 211.76 L612.02 211.76 L612.15 211.70 L613.21 211.20 L614.01 210.70 L614.65 210.20 L615.20 209.70 L615.71 209.20 L616.24 208.70 L616.83 208.20 L617.46 207.70 L618.10 207.20 L618.75 206.70 L619.41 206.20 L620.09 205.70 L620.79 205.20 L621.51 204.70 L622.25 204.20 L623.02 203.70 L623.82 203.20 L624.66 202.70 L625.55 202.20 L626.49 201.70 L627.46 201.20 L628.47 200.70 L629.50 200.20 L630.54 199.70 L631.60 199.20 L632.66 198.70 L633.72 198.20 L634.76 197.70 L635.79 197.20 L636.79 196.70 L637.81 196.20 L638.83 195.70 L639.87 195.20 L640.91 194.70 L641.95 194.20 L642.98 193.70 L644.01 193.20 L645.04 192.70 L646.05 192.20 L647.04 191.70 L648.01 191.20 L648.96 190.70 L649.89 190.20 L650.78 189.70 L651.66 189.20 L652.54 188.70 L653.42 188.20 L654.29 187.70 L655.15 187.20 L656.00 186.70 L656.83 186.20 L657.64 185.70 L658.42 185.20 L659.17 184.70 L659.89 184.20 L660.58 183.70 L661.23 183.20 L661.83 182.70 L662.40 182.20 L662.97 181.70 L663.52 181.20 L664.06 180.70 L664.58 180.20 L665.08 179.70 L665.55 179.20 L666.00 178.70 L666.41 178.20 L666.78 177.70 L667.12 177.20 L667.40 176.70 L667.65 176.20 L667.88 175.70 L668.11 175.20 L668.33 174.70 L668.54 174.20 L668.73 173.70 L668.89 173.20 L669.03 172.70 L669.13 172.20 L669.19 171.70 L669.21 171.20 L669.20 170.70 L669.18 170.20 L669.14 169.70 L669.09 169.20 L669.03 168.70 L668.96 168.20 L668.89 167.70 L668.81 167.20 L668.73 166.70 L668.61 166.20 L668.47 165.70 L668.31 165.20 L668.12 164.70 L667.91 164.20 L667.69 163.70 L667.45 163.20 L667.20 162.70 L666.94 162.20 L666.67 161.70 L666.39 161.20 L666.11 160.70 L665.83 160.20 L665.55 159.70 L665.27 159.20 L665.00 158.70 L664.71 158.20 L664.42 157.70 L664.11 157.20 L663.79 156.70 L663.46 156.20 L663.12 155.70 L662.77 155.20 L662.42 154.70 L662.06 154.20 L661.70 153.70 L661.33 153.20 L660.96 152.70 L660.58 152.20 L660.20 151.70 L659.83 151.20 L659.45 150.70 L659.08 150.20 L658.70 149.70 L658.33 149.20 L657.97 148.70 L657.61 148.20 L657.24 147.70 L656.88 147.20 L656.52 146.70 L656.15 146.20 L655.78 145.70 L655.42 145.20 L655.05 144.70 L654.68 144.20 L654.31 143.70 L653.94 143.20 L653.56 142.70 L653.19 142.20 L652.81 141.70 L652.44 141.20 L652.06 140.70 L651.68 140.20 L651.30 139.70 L650.92 139.20 L650.53 138.70 L650.15 138.20 L649.76 137.70 L649.38 137.20 L648.99 136.70 L648.59 136.20 L648.20 135.70 L647.80 135.20 L647.40 134.70 L647.00 134.20 L646.60 133.70 L646.19 133.20 L645.78 132.70 L645.37 132.20 L644.96 131.70 L644.54 131.20 L644.13 130.70 L643.72 130.20 L643.30 129.70 L642.89 129.20 L642.47 128.70 L642.06 128.20 L641.64 127.70 L641.23 127.20 L640.82 126.70 L640.41 126.20 L640.00 125.70 L639.59 125.20 L639.19 124.70 L638.78 124.20 L638.36 123.70 L637.94 123.20 L637.52 122.70 L637.10 122.20 L636.67 121.70 L636.25 121.20 L635.82 120.70 L635.40 120.20 L634.99 119.70 L634.57 119.20 L634.16 118.70 L633.76 118.20 L633.36 117.70 L632.97 117.20 L632.59 116.70 L632.22 116.20 L631.86 115.70 L631.52 115.20 L631.18 114.70 L630.86 114.20 L630.54 113.70 L630.23 113.20 L629.93 112.70 L629.63 112.20 L629.34 111.70 L629.06 111.20 L628.78 110.70 L628.50 110.20 L628.23 109.70 L627.96 109.20 L627.70 108.70 L627.44 108.20 L627.18 107.70 L626.92 107.20 L626.67 106.70 L626.41 106.20 L626.16 105.70 L625.91 105.20 L625.66 104.70 L625.42 104.20 L625.17 103.70 L624.93 103.20 L624.69 102.70 L624.45 102.20 L624.21 101.70 L623.98 101.20 L623.74 100.70 L623.51 100.20 L623.29 99.70 L623.06 99.20 L622.84 98.70 L622.61 98.20 L622.39 97.70 L622.18 97.20 L621.96 96.70 L621.75 96.20 L621.54 95.70 L621.33 95.20 L621.12 94.70 L620.92 94.20 L620.71 93.70 L620.51 93.20 L620.31 92.70 L620.11 92.20 L619.92 91.70 L619.72 91.20 L619.53 90.70 L619.34 90.20 L619.15 89.70 L618.96 89.20 L618.78 88.70 L618.59 88.20 L618.41 87.70 L618.23 87.20 L618.05 86.70 L617.87 86.20 L617.69 85.70 L617.52 85.20 L617.34 84.70 L617.17 84.20 L617.00 83.70 L616.83 83.20 L616.66 82.70 L616.49 82.20 L616.33 81.70 L616.16 81.20 L616.00 80.70 L615.83 80.20 L615.66 79.70 L615.49 79.20 L615.33 78.70 L615.16 78.20 L614.99 77.70 L614.83 77.20 L614.67 76.70 L614.51 76.20 L614.36 75.70 L614.21 75.20 L614.06 74.70 L613.92 74.20 L613.79 73.70 L613.66 73.20 L613.53 72.70 L613.42 72.20 L613.31 71.70 L613.20 71.20 L613.10 70.70 L613.01 70.20 L612.91 69.70 L612.82 69.20 L612.72 68.70 L612.63 68.20 L612.55 67.70 L612.46 67.20 L612.38 66.70 L612.30 66.20 L612.23 65.70 L612.16 65.20 L612.09 64.70 L612.03 64.20 L611.97 63.70 L611.91 63.20 L611.86 62.70 L611.82 62.20 Z" fill="#D0BC76" stroke="#505050" stroke-width="0.95" stroke-linejoin="round"/>
<line x1="611.20" x2="611.20" y1="87.90" y2="185.00" stroke="#686868" stroke-width="0.85"/>
<line x1="611.20" x2="611.20" y1="133.10" y2="177.00" stroke="#686868" stroke-width="2.75" stroke-linecap="round"/>
<circle cx="611.20" cy="156.20" r="0.75" fill="#fff"/>
<rect x="394.15" y="12.50" width="289.40" height="218.50" fill="none" stroke="#848484" stroke-width="1"/>
<line x1="391.55" x2="394.15" y1="217.17" y2="217.17" stroke="#555" stroke-width="0.8"/><text class="yt" transform="translate(389.35 219.97) scale(0.86 1)">−1</text>
<line x1="391.55" x2="394.15" y1="186.70" y2="186.70" stroke="#555" stroke-width="0.8"/><text class="yt" transform="translate(389.35 189.50) scale(0.86 1)">0</text>
<line x1="391.55" x2="394.15" y1="156.23" y2="156.23" stroke="#555" stroke-width="0.8"/><text class="yt" transform="translate(389.35 159.03) scale(0.86 1)">1</text>
<line x1="391.55" x2="394.15" y1="125.76" y2="125.76" stroke="#555" stroke-width="0.8"/><text class="yt" transform="translate(389.35 128.56) scale(0.86 1)">2</text>
<line x1="391.55" x2="394.15" y1="95.29" y2="95.29" stroke="#555" stroke-width="0.8"/><text class="yt" transform="translate(389.35 98.09) scale(0.86 1)">3</text>
<line x1="391.55" x2="394.15" y1="64.82" y2="64.82" stroke="#555" stroke-width="0.8"/><text class="yt" transform="translate(389.35 67.62) scale(0.86 1)">4</text>
<line x1="391.55" x2="394.15" y1="34.35" y2="34.35" stroke="#555" stroke-width="0.8"/><text class="yt" transform="translate(389.35 37.15) scale(0.86 1)">5</text>
<line x1="466.50" x2="466.50" y1="231.00" y2="233.60" stroke="#555" stroke-width="0.8"/><text class="xl" transform="translate(466.20 242.10) scale(0.95 1)">NC</text>
<line x1="611.20" x2="611.20" y1="231.00" y2="233.60" stroke="#555" stroke-width="0.8"/><text class="xl" transform="translate(610.90 242.10) scale(0.95 1)">DL</text>
<text class="t" transform="translate(538.65 8.70) scale(1.005 1)">Direct AC-WNL</text>
<text class="yl" transform="translate(375.20 123.55) rotate(-90) scale(1.045 1)">MAE (Gy)</text>
</g>
<g id="a3">
<path d="M102.65 298.50 L102.65 299.00 L102.65 299.50 L102.65 300.00 L102.65 300.50 L102.65 301.00 L102.65 301.50 L102.65 302.00 L102.65 302.50 L102.64 303.00 L102.63 303.50 L102.61 304.00 L102.60 304.50 L102.58 305.00 L102.57 305.50 L102.55 306.00 L102.54 306.50 L102.52 307.00 L102.50 307.50 L102.48 308.00 L102.47 308.50 L102.45 309.00 L102.43 309.50 L102.41 310.00 L102.39 310.50 L102.37 311.00 L102.35 311.50 L102.33 312.00 L102.30 312.50 L102.27 313.00 L102.25 313.50 L102.22 314.00 L102.19 314.50 L102.15 315.00 L102.12 315.50 L102.09 316.00 L102.06 316.50 L102.02 317.00 L101.99 317.50 L101.95 318.00 L101.92 318.50 L101.88 319.00 L101.85 319.50 L101.82 320.00 L101.78 320.50 L101.75 321.00 L101.72 321.50 L101.69 322.00 L101.66 322.50 L101.63 323.00 L101.60 323.50 L101.58 324.00 L101.56 324.50 L101.53 325.00 L101.51 325.50 L101.49 326.00 L101.47 326.50 L101.46 327.00 L101.44 327.50 L101.42 328.00 L101.40 328.50 L101.38 329.00 L101.36 329.50 L101.34 330.00 L101.32 330.50 L101.30 331.00 L101.27 331.50 L101.24 332.00 L101.21 332.50 L101.18 333.00 L101.15 333.50 L101.11 334.00 L101.08 334.50 L101.04 335.00 L101.01 335.50 L100.97 336.00 L100.95 336.50 L100.92 337.00 L100.90 337.50 L100.88 338.00 L100.86 338.50 L100.85 339.00 L100.84 339.50 L100.82 340.00 L100.81 340.50 L100.80 341.00 L100.78 341.50 L100.77 342.00 L100.76 342.50 L100.76 343.00 L100.75 343.50 L100.75 344.00 L100.74 344.50 L100.74 345.00 L100.74 345.50 L100.75 346.00 L100.75 346.50 L100.76 347.00 L100.76 347.50 L100.77 348.00 L100.78 348.50 L100.79 349.00 L100.79 349.50 L100.80 350.00 L100.81 350.50 L100.81 351.00 L100.81 351.50 L100.81 352.00 L100.81 352.50 L100.81 353.00 L100.81 353.50 L100.81 354.00 L100.81 354.50 L100.81 355.00 L100.81 355.50 L100.81 356.00 L100.81 356.50 L100.81 357.00 L100.81 357.50 L100.81 358.00 L100.81 358.50 L100.81 359.00 L100.81 359.50 L100.80 360.00 L100.80 360.50 L100.79 361.00 L100.78 361.50 L100.77 362.00 L100.76 362.50 L100.74 363.00 L100.73 363.50 L100.72 364.00 L100.70 364.50 L100.69 365.00 L100.67 365.50 L100.66 366.00 L100.64 366.50 L100.62 367.00 L100.60 367.50 L100.57 368.00 L100.55 368.50 L100.52 369.00 L100.50 369.50 L100.47 370.00 L100.44 370.50 L100.41 371.00 L100.38 371.50 L100.35 372.00 L100.32 372.50 L100.29 373.00 L100.25 373.50 L100.22 374.00 L100.18 374.50 L100.14 375.00 L100.10 375.50 L100.06 376.00 L100.02 376.50 L99.97 377.00 L99.93 377.50 L99.88 378.00 L99.84 378.50 L99.80 379.00 L99.75 379.50 L99.71 380.00 L99.66 380.50 L99.62 381.00 L99.57 381.50 L99.52 382.00 L99.47 382.50 L99.42 383.00 L99.37 383.50 L99.32 384.00 L99.27 384.50 L99.21 385.00 L99.16 385.50 L99.10 386.00 L99.04 386.50 L98.98 387.00 L98.91 387.50 L98.84 388.00 L98.77 388.50 L98.70 389.00 L98.63 389.50 L98.55 390.00 L98.47 390.50 L98.38 391.00 L98.30 391.50 L98.21 392.00 L98.12 392.50 L98.02 393.00 L97.93 393.50 L97.82 394.00 L97.72 394.50 L97.61 395.00 L97.50 395.50 L97.38 396.00 L97.26 396.50 L97.14 397.00 L97.00 397.50 L96.86 398.00 L96.71 398.50 L96.54 399.00 L96.38 399.50 L96.20 400.00 L96.02 400.50 L95.84 401.00 L95.65 401.50 L95.45 402.00 L95.26 402.50 L95.06 403.00 L94.87 403.50 L94.67 404.00 L94.48 404.50 L94.29 405.00 L94.10 405.50 L93.91 406.00 L93.73 406.50 L93.55 407.00 L93.37 407.50 L93.19 408.00 L93.00 408.50 L92.82 409.00 L92.63 409.50 L92.45 410.00 L92.26 410.50 L92.08 411.00 L91.89 411.50 L91.71 412.00 L91.53 412.50 L91.35 413.00 L91.17 413.50 L91.00 414.00 L90.83 414.50 L90.66 415.00 L90.50 415.50 L90.34 416.00 L90.18 416.50 L90.02 417.00 L89.85 417.50 L89.69 418.00 L89.53 418.50 L89.37 419.00 L89.21 419.50 L89.05 420.00 L88.90 420.50 L88.75 421.00 L88.61 421.50 L88.48 422.00 L88.35 422.50 L88.24 423.00 L88.13 423.50 L88.04 424.00 L87.95 424.50 L87.87 425.00 L87.79 425.50 L87.71 426.00 L87.64 426.50 L87.57 427.00 L87.50 427.50 L87.44 428.00 L87.38 428.50 L87.33 429.00 L87.28 429.50 L87.24 430.00 L87.20 430.50 L87.17 431.00 L87.14 431.50 L87.12 432.00 L87.10 432.50 L87.08 433.00 L87.06 433.50 L87.04 434.00 L87.03 434.50 L87.03 435.00 L87.03 435.50 L87.03 436.00 L87.05 436.50 L87.07 437.00 L87.10 437.50 L87.13 438.00 L87.17 438.50 L87.22 439.00 L87.26 439.50 L87.32 440.00 L87.38 440.50 L87.44 441.00 L87.50 441.50 L87.57 442.00 L87.64 442.50 L87.71 443.00 L87.78 443.50 L87.86 444.00 L87.93 444.50 L88.01 445.00 L88.09 445.50 L88.19 446.00 L88.30 446.50 L88.42 447.00 L88.55 447.50 L88.69 448.00 L88.84 448.50 L88.99 449.00 L89.14 449.50 L89.30 450.00 L89.47 450.50 L89.63 451.00 L89.80 451.50 L89.96 452.00 L90.13 452.50 L90.29 453.00 L90.45 453.50 L90.61 454.00 L90.77 454.50 L90.94 455.00 L91.10 455.50 L91.28 456.00 L91.45 456.50 L91.62 457.00 L91.80 457.50 L91.98 458.00 L92.16 458.50 L92.34 459.00 L92.53 459.50 L92.71 460.00 L92.90 460.50 L93.09 461.00 L93.28 461.50 L93.48 462.00 L93.67 462.50 L93.87 463.00 L94.07 463.50 L94.27 464.00 L94.48 464.50 L94.70 465.00 L94.92 465.50 L95.14 466.00 L95.36 466.50 L95.58 467.00 L95.80 467.50 L96.03 468.00 L96.25 468.50 L96.47 469.00 L96.69 469.50 L96.91 470.00 L97.13 470.50 L97.34 471.00 L97.54 471.50 L97.74 472.00 L97.94 472.50 L98.14 473.00 L98.34 473.50 L98.53 474.00 L98.73 474.50 L98.93 475.00 L99.12 475.50 L99.31 476.00 L99.49 476.50 L99.67 477.00 L99.84 477.50 L100.00 478.00 L100.15 478.50 L100.29 479.00 L100.42 479.50 L100.54 480.00 L100.66 480.50 L100.78 481.00 L100.89 481.50 L101.00 482.00 L101.11 482.50 L101.20 483.00 L101.30 483.50 L101.39 484.00 L101.48 484.50 L101.56 485.00 L101.63 485.50 L101.70 486.00 L101.77 486.50 L101.83 487.00 L101.89 487.50 L101.94 488.00 L101.99 488.50 L102.05 489.00 L102.09 489.50 L102.14 490.00 L102.19 490.50 L102.23 491.00 L102.27 491.50 L102.32 492.00 L102.36 492.50 L102.40 493.00 L102.44 493.50 L102.48 494.00 L102.52 494.50 L102.55 495.00 L102.59 495.50 L102.62 496.00 L102.65 496.50 L102.65 497.00 L102.65 497.50 L102.65 497.68 L102.95 497.68 L102.95 497.50 L102.95 497.00 L102.95 496.50 L102.98 496.00 L103.01 495.50 L103.05 495.00 L103.08 494.50 L103.12 494.00 L103.16 493.50 L103.20 493.00 L103.24 492.50 L103.28 492.00 L103.33 491.50 L103.37 491.00 L103.41 490.50 L103.46 490.00 L103.51 489.50 L103.55 489.00 L103.61 488.50 L103.66 488.00 L103.71 487.50 L103.77 487.00 L103.83 486.50 L103.90 486.00 L103.97 485.50 L104.04 485.00 L104.12 484.50 L104.21 484.00 L104.30 483.50 L104.40 483.00 L104.49 482.50 L104.60 482.00 L104.71 481.50 L104.82 481.00 L104.94 480.50 L105.06 480.00 L105.18 479.50 L105.31 479.00 L105.45 478.50 L105.60 478.00 L105.76 477.50 L105.93 477.00 L106.11 476.50 L106.29 476.00 L106.48 475.50 L106.67 475.00 L106.87 474.50 L107.07 474.00 L107.26 473.50 L107.46 473.00 L107.66 472.50 L107.86 472.00 L108.06 471.50 L108.26 471.00 L108.47 470.50 L108.69 470.00 L108.91 469.50 L109.13 469.00 L109.35 468.50 L109.57 468.00 L109.80 467.50 L110.02 467.00 L110.24 466.50 L110.46 466.00 L110.68 465.50 L110.90 465.00 L111.12 464.50 L111.33 464.00 L111.53 463.50 L111.73 463.00 L111.93 462.50 L112.12 462.00 L112.32 461.50 L112.51 461.00 L112.70 460.50 L112.89 460.00 L113.07 459.50 L113.26 459.00 L113.44 458.50 L113.62 458.00 L113.80 457.50 L113.98 457.00 L114.15 456.50 L114.32 456.00 L114.50 455.50 L114.66 455.00 L114.83 454.50 L114.99 454.00 L115.15 453.50 L115.31 453.00 L115.47 452.50 L115.64 452.00 L115.80 451.50 L115.97 451.00 L116.13 450.50 L116.30 450.00 L116.46 449.50 L116.61 449.00 L116.76 448.50 L116.91 448.00 L117.05 447.50 L117.18 447.00 L117.30 446.50 L117.41 446.00 L117.51 445.50 L117.59 445.00 L117.67 444.50 L117.74 444.00 L117.82 443.50 L117.89 443.00 L117.96 442.50 L118.03 442.00 L118.10 441.50 L118.16 441.00 L118.22 440.50 L118.28 440.00 L118.34 439.50 L118.38 439.00 L118.43 438.50 L118.47 438.00 L118.50 437.50 L118.53 437.00 L118.55 436.50 L118.57 436.00 L118.57 435.50 L118.57 435.00 L118.57 434.50 L118.56 434.00 L118.54 433.50 L118.52 433.00 L118.50 432.50 L118.48 432.00 L118.46 431.50 L118.43 431.00 L118.40 430.50 L118.36 430.00 L118.32 429.50 L118.27 429.00 L118.22 428.50 L118.16 428.00 L118.10 427.50 L118.03 427.00 L117.96 426.50 L117.89 426.00 L117.81 425.50 L117.73 425.00 L117.65 424.50 L117.56 424.00 L117.47 423.50 L117.36 423.00 L117.25 422.50 L117.12 422.00 L116.99 421.50 L116.85 421.00 L116.70 420.50 L116.55 420.00 L116.39 419.50 L116.23 419.00 L116.07 418.50 L115.91 418.00 L115.75 417.50 L115.58 417.00 L115.42 416.50 L115.26 416.00 L115.10 415.50 L114.94 415.00 L114.77 414.50 L114.60 414.00 L114.43 413.50 L114.25 413.00 L114.07 412.50 L113.89 412.00 L113.71 411.50 L113.52 411.00 L113.34 410.50 L113.15 410.00 L112.97 409.50 L112.78 409.00 L112.60 408.50 L112.41 408.00 L112.23 407.50 L112.05 407.00 L111.87 406.50 L111.69 406.00 L111.50 405.50 L111.31 405.00 L111.12 404.50 L110.93 404.00 L110.73 403.50 L110.54 403.00 L110.34 402.50 L110.15 402.00 L109.95 401.50 L109.76 401.00 L109.58 400.50 L109.40 400.00 L109.22 399.50 L109.06 399.00 L108.89 398.50 L108.74 398.00 L108.60 397.50 L108.46 397.00 L108.34 396.50 L108.22 396.00 L108.10 395.50 L107.99 395.00 L107.88 394.50 L107.78 394.00 L107.67 393.50 L107.58 393.00 L107.48 392.50 L107.39 392.00 L107.30 391.50 L107.22 391.00 L107.13 390.50 L107.05 390.00 L106.97 389.50 L106.90 389.00 L106.83 388.50 L106.76 388.00 L106.69 387.50 L106.62 387.00 L106.56 386.50 L106.50 386.00 L106.44 385.50 L106.39 385.00 L106.33 384.50 L106.28 384.00 L106.23 383.50 L106.18 383.00 L106.13 382.50 L106.08 382.00 L106.03 381.50 L105.98 381.00 L105.94 380.50 L105.89 380.00 L105.85 379.50 L105.80 379.00 L105.76 378.50 L105.72 378.00 L105.67 377.50 L105.63 377.00 L105.58 376.50 L105.54 376.00 L105.50 375.50 L105.46 375.00 L105.42 374.50 L105.38 374.00 L105.35 373.50 L105.31 373.00 L105.28 372.50 L105.25 372.00 L105.22 371.50 L105.19 371.00 L105.16 370.50 L105.13 370.00 L105.10 369.50 L105.08 369.00 L105.05 368.50 L105.03 368.00 L105.00 367.50 L104.98 367.00 L104.96 366.50 L104.94 366.00 L104.93 365.50 L104.91 365.00 L104.90 364.50 L104.88 364.00 L104.87 363.50 L104.86 363.00 L104.84 362.50 L104.83 362.00 L104.82 361.50 L104.81 361.00 L104.80 360.50 L104.80 360.00 L104.79 359.50 L104.79 359.00 L104.79 358.50 L104.79 358.00 L104.79 357.50 L104.79 357.00 L104.79 356.50 L104.79 356.00 L104.79 355.50 L104.79 355.00 L104.79 354.50 L104.79 354.00 L104.79 353.50 L104.79 353.00 L104.79 352.50 L104.79 352.00 L104.79 351.50 L104.79 351.00 L104.79 350.50 L104.80 350.00 L104.81 349.50 L104.81 349.00 L104.82 348.50 L104.83 348.00 L104.84 347.50 L104.84 347.00 L104.85 346.50 L104.85 346.00 L104.86 345.50 L104.86 345.00 L104.86 344.50 L104.85 344.00 L104.85 343.50 L104.84 343.00 L104.84 342.50 L104.83 342.00 L104.82 341.50 L104.80 341.00 L104.79 340.50 L104.78 340.00 L104.76 339.50 L104.75 339.00 L104.74 338.50 L104.72 338.00 L104.70 337.50 L104.68 337.00 L104.65 336.50 L104.63 336.00 L104.59 335.50 L104.56 335.00 L104.52 334.50 L104.49 334.00 L104.45 333.50 L104.42 333.00 L104.39 332.50 L104.36 332.00 L104.33 331.50 L104.30 331.00 L104.28 330.50 L104.26 330.00 L104.24 329.50 L104.22 329.00 L104.20 328.50 L104.18 328.00 L104.16 327.50 L104.14 327.00 L104.13 326.50 L104.11 326.00 L104.09 325.50 L104.07 325.00 L104.04 324.50 L104.02 324.00 L104.00 323.50 L103.97 323.00 L103.94 322.50 L103.91 322.00 L103.88 321.50 L103.85 321.00 L103.82 320.50 L103.78 320.00 L103.75 319.50 L103.72 319.00 L103.68 318.50 L103.65 318.00 L103.61 317.50 L103.58 317.00 L103.54 316.50 L103.51 316.00 L103.48 315.50 L103.45 315.00 L103.41 314.50 L103.38 314.00 L103.35 313.50 L103.33 313.00 L103.30 312.50 L103.27 312.00 L103.25 311.50 L103.23 311.00 L103.21 310.50 L103.19 310.00 L103.17 309.50 L103.15 309.00 L103.13 308.50 L103.12 308.00 L103.10 307.50 L103.08 307.00 L103.06 306.50 L103.05 306.00 L103.03 305.50 L103.02 305.00 L103.00 304.50 L102.99 304.00 L102.97 303.50 L102.96 303.00 L102.95 302.50 L102.95 302.00 L102.95 301.50 L102.95 301.00 L102.95 300.50 L102.95 300.00 L102.95 299.50 L102.95 299.00 L102.95 298.50 Z" fill="#DF4E3F" stroke="#474747" stroke-width="0.95" stroke-linejoin="round"/>
<line x1="102.80" x2="102.80" y1="376.10" y2="467.50" stroke="#4e4e4e" stroke-width="0.85"/>
<line x1="102.80" x2="102.80" y1="415.00" y2="444.60" stroke="#4e4e4e" stroke-width="2.75" stroke-linecap="round"/>
<circle cx="102.80" cy="430.20" r="0.75" fill="#fff"/>
<path d="M247.30 418.38 L247.16 418.88 L247.03 419.38 L246.89 419.88 L246.76 420.38 L246.63 420.88 L246.50 421.38 L246.37 421.88 L246.24 422.38 L246.11 422.88 L245.98 423.38 L245.85 423.88 L245.73 424.38 L245.60 424.88 L245.48 425.38 L245.36 425.88 L245.25 426.38 L245.14 426.88 L245.03 427.38 L244.93 427.88 L244.83 428.38 L244.74 428.88 L244.64 429.38 L244.54 429.88 L244.45 430.38 L244.35 430.88 L244.27 431.38 L244.19 431.88 L244.11 432.38 L244.01 432.88 L243.90 433.38 L243.76 433.88 L243.56 434.38 L243.21 434.88 L242.78 435.38 L242.29 435.88 L241.79 436.38 L241.33 436.88 L240.92 437.38 L240.50 437.88 L240.08 438.38 L239.68 438.88 L239.32 439.38 L239.03 439.88 L238.82 440.38 L238.63 440.88 L238.45 441.38 L238.30 441.88 L238.18 442.38 L238.11 442.88 L238.10 443.38 L238.12 443.88 L238.15 444.38 L238.19 444.88 L238.23 445.38 L238.27 445.88 L238.30 446.38 L238.30 446.88 L238.27 447.38 L238.20 447.88 L238.09 448.38 L237.94 448.88 L237.77 449.38 L237.58 449.88 L237.22 450.38 L236.62 450.88 L235.85 451.38 L234.98 451.88 L234.06 452.38 L233.07 452.88 L231.92 453.38 L230.63 453.88 L229.22 454.38 L227.71 454.88 L226.14 455.38 L224.45 455.88 L222.56 456.38 L220.52 456.88 L218.40 457.38 L216.25 457.88 L214.09 458.38 L211.82 458.88 L209.50 459.38 L207.19 459.88 L204.94 460.38 L202.64 460.88 L200.33 461.38 L198.11 461.88 L196.08 462.38 L194.28 462.88 L192.51 463.38 L191.00 463.88 L190.05 464.38 L189.50 464.88 L189.25 465.38 L189.59 465.88 L190.42 466.38 L191.49 466.88 L193.25 467.38 L195.63 467.88 L198.29 468.38 L200.93 468.88 L203.74 469.38 L206.80 469.88 L209.96 470.38 L213.07 470.88 L216.00 471.38 L218.81 471.88 L221.59 472.38 L224.30 472.88 L226.94 473.38 L229.49 473.88 L231.95 474.38 L234.40 474.88 L236.75 475.38 L238.89 475.88 L240.67 476.38 L242.04 476.88 L243.37 477.38 L245.14 477.88 L246.89 478.26 L248.11 478.26 L249.86 477.88 L251.63 477.38 L252.96 476.88 L254.33 476.38 L256.11 475.88 L258.25 475.38 L260.60 474.88 L263.05 474.38 L265.51 473.88 L268.06 473.38 L270.70 472.88 L273.41 472.38 L276.19 471.88 L279.00 471.38 L281.93 470.88 L285.04 470.38 L288.20 469.88 L291.26 469.38 L294.07 468.88 L296.71 468.38 L299.37 467.88 L301.75 467.38 L303.51 466.88 L304.58 466.38 L305.41 465.88 L305.75 465.38 L305.50 464.88 L304.95 464.38 L304.00 463.88 L302.49 463.38 L300.72 462.88 L298.92 462.38 L296.89 461.88 L294.67 461.38 L292.36 460.88 L290.06 460.38 L287.81 459.88 L285.50 459.38 L283.18 458.88 L280.91 458.38 L278.75 457.88 L276.60 457.38 L274.48 456.88 L272.44 456.38 L270.55 455.88 L268.86 455.38 L267.29 454.88 L265.78 454.38 L264.37 453.88 L263.08 453.38 L261.93 452.88 L260.94 452.38 L260.02 451.88 L259.15 451.38 L258.38 450.88 L257.78 450.38 L257.42 449.88 L257.23 449.38 L257.06 448.88 L256.91 448.38 L256.80 447.88 L256.73 447.38 L256.70 446.88 L256.70 446.38 L256.73 445.88 L256.77 445.38 L256.81 444.88 L256.85 444.38 L256.88 443.88 L256.90 443.38 L256.89 442.88 L256.82 442.38 L256.70 441.88 L256.55 441.38 L256.37 440.88 L256.18 440.38 L255.97 439.88 L255.68 439.38 L255.32 438.88 L254.92 438.38 L254.50 437.88 L254.08 437.38 L253.67 436.88 L253.21 436.38 L252.71 435.88 L252.22 435.38 L251.79 434.88 L251.44 434.38 L251.24 433.88 L251.10 433.38 L250.99 432.88 L250.89 432.38 L250.81 431.88 L250.73 431.38 L250.65 430.88 L250.55 430.38 L250.46 429.88 L250.36 429.38 L250.26 428.88 L250.17 428.38 L250.07 427.88 L249.97 427.38 L249.86 426.88 L249.75 426.38 L249.64 425.88 L249.52 425.38 L249.40 424.88 L249.27 424.38 L249.15 423.88 L249.02 423.38 L248.89 422.88 L248.76 422.38 L248.63 421.88 L248.50 421.38 L248.37 420.88 L248.24 420.38 L248.11 419.88 L247.97 419.38 L247.84 418.88 L247.70 418.38 Z" fill="#DFC02D" stroke="#474747" stroke-width="0.95" stroke-linejoin="round"/>
<line x1="247.50" x2="247.50" y1="444.90" y2="469.10" stroke="#4e4e4e" stroke-width="0.85"/>
<line x1="247.50" x2="247.50" y1="457.50" y2="467.80" stroke="#4e4e4e" stroke-width="2.75" stroke-linecap="round"/>
<circle cx="247.50" cy="463.60" r="0.75" fill="#fff"/>
<rect x="30.45" y="289.00" width="289.40" height="218.40" fill="none" stroke="#848484" stroke-width="1"/>
<line x1="27.85" x2="30.45" y1="494.30" y2="494.30" stroke="#555" stroke-width="0.8"/><text class="yt" transform="translate(25.65 497.10) scale(0.86 1)">−25</text>
<line x1="27.85" x2="30.45" y1="468.75" y2="468.75" stroke="#555" stroke-width="0.8"/><text class="yt" transform="translate(25.65 471.55) scale(0.86 1)">0</text>
<line x1="27.85" x2="30.45" y1="443.20" y2="443.20" stroke="#555" stroke-width="0.8"/><text class="yt" transform="translate(25.65 446.00) scale(0.86 1)">25</text>
<line x1="27.85" x2="30.45" y1="417.65" y2="417.65" stroke="#555" stroke-width="0.8"/><text class="yt" transform="translate(25.65 420.45) scale(0.86 1)">50</text>
<line x1="27.85" x2="30.45" y1="392.10" y2="392.10" stroke="#555" stroke-width="0.8"/><text class="yt" transform="translate(25.65 394.90) scale(0.86 1)">75</text>
<line x1="27.85" x2="30.45" y1="366.55" y2="366.55" stroke="#555" stroke-width="0.8"/><text class="yt" transform="translate(25.65 369.35) scale(0.86 1)">100</text>
<line x1="27.85" x2="30.45" y1="341.00" y2="341.00" stroke="#555" stroke-width="0.8"/><text class="yt" transform="translate(25.65 343.80) scale(0.86 1)">125</text>
<line x1="27.85" x2="30.45" y1="315.45" y2="315.45" stroke="#555" stroke-width="0.8"/><text class="yt" transform="translate(25.65 318.25) scale(0.86 1)">150</text>
<line x1="27.85" x2="30.45" y1="289.90" y2="289.90" stroke="#555" stroke-width="0.8"/><text class="yt" transform="translate(25.65 292.70) scale(0.86 1)">175</text>
<line x1="102.80" x2="102.80" y1="507.40" y2="510.00" stroke="#555" stroke-width="0.8"/><text class="xl" transform="translate(102.50 518.50) scale(0.95 1)">AC</text>
<line x1="247.50" x2="247.50" y1="507.40" y2="510.00" stroke="#555" stroke-width="0.8"/><text class="xl" transform="translate(247.20 518.50) scale(0.95 1)">DL</text>
<text class="t" transform="translate(174.95 285.20) scale(1.005 1)">Direct SC-Tumor</text>
<text class="yl" transform="translate(7.40 400.00) rotate(-90) scale(1.045 1)">MAE (Gy)</text>
</g>
<g id="a4">
<path d="M466.34 298.35 L466.31 298.85 L466.29 299.35 L466.26 299.85 L466.23 300.35 L466.19 300.85 L466.16 301.35 L466.12 301.85 L466.08 302.35 L466.04 302.85 L465.99 303.35 L465.95 303.85 L465.90 304.35 L465.85 304.85 L465.80 305.35 L465.75 305.85 L465.70 306.35 L465.65 306.85 L465.59 307.35 L465.54 307.85 L465.48 308.35 L465.42 308.85 L465.37 309.35 L465.30 309.85 L465.24 310.35 L465.16 310.85 L465.09 311.35 L465.01 311.85 L464.92 312.35 L464.84 312.85 L464.75 313.35 L464.66 313.85 L464.56 314.35 L464.47 314.85 L464.38 315.35 L464.29 315.85 L464.20 316.35 L464.11 316.85 L464.02 317.35 L463.94 317.85 L463.85 318.35 L463.78 318.85 L463.70 319.35 L463.63 319.85 L463.55 320.35 L463.48 320.85 L463.40 321.35 L463.33 321.85 L463.25 322.35 L463.18 322.85 L463.11 323.35 L463.04 323.85 L462.97 324.35 L462.90 324.85 L462.84 325.35 L462.77 325.85 L462.71 326.35 L462.66 326.85 L462.60 327.35 L462.55 327.85 L462.50 328.35 L462.46 328.85 L462.41 329.35 L462.37 329.85 L462.33 330.35 L462.29 330.85 L462.25 331.35 L462.21 331.85 L462.17 332.35 L462.13 332.85 L462.09 333.35 L462.06 333.85 L462.03 334.35 L462.00 334.85 L461.97 335.35 L461.94 335.85 L461.91 336.35 L461.89 336.85 L461.87 337.35 L461.85 337.85 L461.84 338.35 L461.82 338.85 L461.81 339.35 L461.80 339.85 L461.79 340.35 L461.78 340.85 L461.77 341.35 L461.76 341.85 L461.76 342.35 L461.75 342.85 L461.74 343.35 L461.73 343.85 L461.72 344.35 L461.71 344.85 L461.70 345.35 L461.69 345.85 L461.68 346.35 L461.66 346.85 L461.65 347.35 L461.64 347.85 L461.62 348.35 L461.60 348.85 L461.59 349.35 L461.57 349.85 L461.55 350.35 L461.53 350.85 L461.51 351.35 L461.48 351.85 L461.46 352.35 L461.44 352.85 L461.41 353.35 L461.38 353.85 L461.35 354.35 L461.32 354.85 L461.29 355.35 L461.25 355.85 L461.21 356.35 L461.16 356.85 L461.11 357.35 L461.06 357.85 L461.01 358.35 L460.95 358.85 L460.89 359.35 L460.83 359.85 L460.76 360.35 L460.69 360.85 L460.62 361.35 L460.54 361.85 L460.45 362.35 L460.36 362.85 L460.26 363.35 L460.16 363.85 L460.05 364.35 L459.93 364.85 L459.82 365.35 L459.69 365.85 L459.57 366.35 L459.44 366.85 L459.31 367.35 L459.18 367.85 L459.04 368.35 L458.91 368.85 L458.76 369.35 L458.61 369.85 L458.46 370.35 L458.29 370.85 L458.13 371.35 L457.95 371.85 L457.77 372.35 L457.59 372.85 L457.40 373.35 L457.21 373.85 L457.01 374.35 L456.82 374.85 L456.62 375.35 L456.42 375.85 L456.22 376.35 L456.01 376.85 L455.81 377.35 L455.61 377.85 L455.40 378.35 L455.19 378.85 L454.98 379.35 L454.76 379.85 L454.54 380.35 L454.32 380.85 L454.10 381.35 L453.87 381.85 L453.64 382.35 L453.41 382.85 L453.18 383.35 L452.94 383.85 L452.70 384.35 L452.46 384.85 L452.22 385.35 L451.97 385.85 L451.73 386.35 L451.48 386.85 L451.23 387.35 L450.98 387.85 L450.72 388.35 L450.46 388.85 L450.19 389.35 L449.92 389.85 L449.65 390.35 L449.36 390.85 L449.08 391.35 L448.80 391.85 L448.51 392.35 L448.23 392.85 L447.94 393.35 L447.66 393.85 L447.38 394.35 L447.10 394.85 L446.83 395.35 L446.56 395.85 L446.30 396.35 L446.03 396.85 L445.76 397.35 L445.50 397.85 L445.23 398.35 L444.97 398.85 L444.71 399.35 L444.45 399.85 L444.20 400.35 L443.94 400.85 L443.70 401.35 L443.45 401.85 L443.21 402.35 L442.98 402.85 L442.74 403.35 L442.51 403.85 L442.28 404.35 L442.05 404.85 L441.82 405.35 L441.59 405.85 L441.37 406.35 L441.14 406.85 L440.92 407.35 L440.71 407.85 L440.49 408.35 L440.28 408.85 L440.08 409.35 L439.88 409.85 L439.68 410.35 L439.50 410.85 L439.32 411.35 L439.14 411.85 L438.98 412.35 L438.82 412.85 L438.67 413.35 L438.51 413.85 L438.36 414.35 L438.22 414.85 L438.07 415.35 L437.93 415.85 L437.79 416.35 L437.65 416.85 L437.52 417.35 L437.40 417.85 L437.27 418.35 L437.15 418.85 L437.04 419.35 L436.93 419.85 L436.82 420.35 L436.73 420.85 L436.63 421.35 L436.54 421.85 L436.46 422.35 L436.38 422.85 L436.30 423.35 L436.22 423.85 L436.14 424.35 L436.06 424.85 L435.98 425.35 L435.90 425.85 L435.82 426.35 L435.75 426.85 L435.68 427.35 L435.62 427.85 L435.56 428.35 L435.51 428.85 L435.46 429.35 L435.42 429.85 L435.39 430.35 L435.37 430.85 L435.35 431.35 L435.35 431.85 L435.35 432.35 L435.36 432.85 L435.38 433.35 L435.41 433.85 L435.44 434.35 L435.49 434.85 L435.53 435.35 L435.59 435.85 L435.65 436.35 L435.71 436.85 L435.78 437.35 L435.85 437.85 L435.93 438.35 L436.01 438.85 L436.09 439.35 L436.17 439.85 L436.26 440.35 L436.34 440.85 L436.43 441.35 L436.52 441.85 L436.62 442.35 L436.73 442.85 L436.85 443.35 L436.98 443.85 L437.12 444.35 L437.27 444.85 L437.42 445.35 L437.59 445.85 L437.76 446.35 L437.94 446.85 L438.12 447.35 L438.31 447.85 L438.51 448.35 L438.70 448.85 L438.91 449.35 L439.11 449.85 L439.32 450.35 L439.53 450.85 L439.74 451.35 L439.96 451.85 L440.20 452.35 L440.44 452.85 L440.70 453.35 L440.96 453.85 L441.24 454.35 L441.52 454.85 L441.81 455.35 L442.11 455.85 L442.41 456.35 L442.72 456.85 L443.03 457.35 L443.35 457.85 L443.67 458.35 L444.00 458.85 L444.32 459.35 L444.65 459.85 L444.98 460.35 L445.31 460.85 L445.64 461.35 L445.98 461.85 L446.34 462.35 L446.69 462.85 L447.06 463.35 L447.43 463.85 L447.81 464.35 L448.19 464.85 L448.58 465.35 L448.96 465.85 L449.35 466.35 L449.75 466.85 L450.14 467.35 L450.53 467.85 L450.91 468.35 L451.30 468.85 L451.68 469.35 L452.06 469.85 L452.43 470.35 L452.81 470.85 L453.18 471.35 L453.56 471.85 L453.95 472.35 L454.33 472.85 L454.72 473.35 L455.10 473.85 L455.49 474.35 L455.87 474.85 L456.25 475.35 L456.62 475.85 L456.99 476.35 L457.34 476.85 L457.69 477.35 L458.03 477.85 L458.36 478.35 L458.67 478.85 L458.98 479.35 L459.27 479.85 L459.56 480.35 L459.84 480.85 L460.12 481.35 L460.39 481.85 L460.66 482.35 L460.92 482.85 L461.17 483.35 L461.42 483.85 L461.66 484.35 L461.90 484.85 L462.13 485.35 L462.35 485.85 L462.57 486.35 L462.77 486.85 L462.97 487.35 L463.16 487.85 L463.35 488.35 L463.52 488.85 L463.69 489.35 L463.86 489.85 L464.02 490.35 L464.18 490.85 L464.33 491.35 L464.48 491.85 L464.63 492.35 L464.78 492.85 L464.93 493.35 L465.08 493.85 L465.23 494.35 L465.37 494.85 L465.52 495.35 L465.66 495.85 L465.80 496.35 L465.93 496.85 L466.07 497.35 L466.18 497.78 L466.82 497.78 L466.93 497.35 L467.07 496.85 L467.20 496.35 L467.34 495.85 L467.48 495.35 L467.63 494.85 L467.77 494.35 L467.92 493.85 L468.07 493.35 L468.22 492.85 L468.37 492.35 L468.52 491.85 L468.67 491.35 L468.82 490.85 L468.98 490.35 L469.14 489.85 L469.31 489.35 L469.48 488.85 L469.65 488.35 L469.84 487.85 L470.03 487.35 L470.23 486.85 L470.43 486.35 L470.65 485.85 L470.87 485.35 L471.10 484.85 L471.34 484.35 L471.58 483.85 L471.83 483.35 L472.08 482.85 L472.34 482.35 L472.61 481.85 L472.88 481.35 L473.16 480.85 L473.44 480.35 L473.73 479.85 L474.02 479.35 L474.33 478.85 L474.64 478.35 L474.97 477.85 L475.31 477.35 L475.66 476.85 L476.01 476.35 L476.38 475.85 L476.75 475.35 L477.13 474.85 L477.51 474.35 L477.90 473.85 L478.28 473.35 L478.67 472.85 L479.05 472.35 L479.44 471.85 L479.82 471.35 L480.19 470.85 L480.57 470.35 L480.94 469.85 L481.32 469.35 L481.70 468.85 L482.09 468.35 L482.47 467.85 L482.86 467.35 L483.25 466.85 L483.65 466.35 L484.04 465.85 L484.42 465.35 L484.81 464.85 L485.19 464.35 L485.57 463.85 L485.94 463.35 L486.31 462.85 L486.66 462.35 L487.02 461.85 L487.36 461.35 L487.69 460.85 L488.02 460.35 L488.35 459.85 L488.68 459.35 L489.00 458.85 L489.33 458.35 L489.65 457.85 L489.97 457.35 L490.28 456.85 L490.59 456.35 L490.89 455.85 L491.19 455.35 L491.48 454.85 L491.76 454.35 L492.04 453.85 L492.30 453.35 L492.56 452.85 L492.80 452.35 L493.04 451.85 L493.26 451.35 L493.47 450.85 L493.68 450.35 L493.89 449.85 L494.09 449.35 L494.30 448.85 L494.49 448.35 L494.69 447.85 L494.88 447.35 L495.06 446.85 L495.24 446.35 L495.41 445.85 L495.58 445.35 L495.73 444.85 L495.88 444.35 L496.02 443.85 L496.15 443.35 L496.27 442.85 L496.38 442.35 L496.48 441.85 L496.57 441.35 L496.66 440.85 L496.74 440.35 L496.83 439.85 L496.91 439.35 L496.99 438.85 L497.07 438.35 L497.15 437.85 L497.22 437.35 L497.29 436.85 L497.35 436.35 L497.41 435.85 L497.47 435.35 L497.51 434.85 L497.56 434.35 L497.59 433.85 L497.62 433.35 L497.64 432.85 L497.65 432.35 L497.65 431.85 L497.65 431.35 L497.63 430.85 L497.61 430.35 L497.58 429.85 L497.54 429.35 L497.49 428.85 L497.44 428.35 L497.38 427.85 L497.32 427.35 L497.25 426.85 L497.18 426.35 L497.10 425.85 L497.02 425.35 L496.94 424.85 L496.86 424.35 L496.78 423.85 L496.70 423.35 L496.62 422.85 L496.54 422.35 L496.46 421.85 L496.37 421.35 L496.27 420.85 L496.18 420.35 L496.07 419.85 L495.96 419.35 L495.85 418.85 L495.73 418.35 L495.60 417.85 L495.48 417.35 L495.35 416.85 L495.21 416.35 L495.07 415.85 L494.93 415.35 L494.78 414.85 L494.64 414.35 L494.49 413.85 L494.33 413.35 L494.18 412.85 L494.02 412.35 L493.86 411.85 L493.68 411.35 L493.50 410.85 L493.32 410.35 L493.12 409.85 L492.92 409.35 L492.72 408.85 L492.51 408.35 L492.29 407.85 L492.08 407.35 L491.86 406.85 L491.63 406.35 L491.41 405.85 L491.18 405.35 L490.95 404.85 L490.72 404.35 L490.49 403.85 L490.26 403.35 L490.02 402.85 L489.79 402.35 L489.55 401.85 L489.30 401.35 L489.06 400.85 L488.80 400.35 L488.55 399.85 L488.29 399.35 L488.03 398.85 L487.77 398.35 L487.50 397.85 L487.24 397.35 L486.97 396.85 L486.70 396.35 L486.44 395.85 L486.17 395.35 L485.90 394.85 L485.62 394.35 L485.34 393.85 L485.06 393.35 L484.77 392.85 L484.49 392.35 L484.20 391.85 L483.92 391.35 L483.64 390.85 L483.35 390.35 L483.08 389.85 L482.81 389.35 L482.54 388.85 L482.28 388.35 L482.02 387.85 L481.77 387.35 L481.52 386.85 L481.27 386.35 L481.03 385.85 L480.78 385.35 L480.54 384.85 L480.30 384.35 L480.06 383.85 L479.82 383.35 L479.59 382.85 L479.36 382.35 L479.13 381.85 L478.90 381.35 L478.68 380.85 L478.46 380.35 L478.24 379.85 L478.02 379.35 L477.81 378.85 L477.60 378.35 L477.39 377.85 L477.19 377.35 L476.99 376.85 L476.78 376.35 L476.58 375.85 L476.38 375.35 L476.18 374.85 L475.99 374.35 L475.79 373.85 L475.60 373.35 L475.41 372.85 L475.23 372.35 L475.05 371.85 L474.87 371.35 L474.71 370.85 L474.54 370.35 L474.39 369.85 L474.24 369.35 L474.09 368.85 L473.96 368.35 L473.82 367.85 L473.69 367.35 L473.56 366.85 L473.43 366.35 L473.31 365.85 L473.18 365.35 L473.07 364.85 L472.95 364.35 L472.84 363.85 L472.74 363.35 L472.64 362.85 L472.55 362.35 L472.46 361.85 L472.38 361.35 L472.31 360.85 L472.24 360.35 L472.17 359.85 L472.11 359.35 L472.05 358.85 L471.99 358.35 L471.94 357.85 L471.89 357.35 L471.84 356.85 L471.79 356.35 L471.75 355.85 L471.71 355.35 L471.68 354.85 L471.65 354.35 L471.62 353.85 L471.59 353.35 L471.56 352.85 L471.54 352.35 L471.52 351.85 L471.49 351.35 L471.47 350.85 L471.45 350.35 L471.43 349.85 L471.41 349.35 L471.40 348.85 L471.38 348.35 L471.36 347.85 L471.35 347.35 L471.34 346.85 L471.32 346.35 L471.31 345.85 L471.30 345.35 L471.29 344.85 L471.28 344.35 L471.27 343.85 L471.26 343.35 L471.25 342.85 L471.24 342.35 L471.24 341.85 L471.23 341.35 L471.22 340.85 L471.21 340.35 L471.20 339.85 L471.19 339.35 L471.18 338.85 L471.16 338.35 L471.15 337.85 L471.13 337.35 L471.11 336.85 L471.09 336.35 L471.06 335.85 L471.03 335.35 L471.00 334.85 L470.97 334.35 L470.94 333.85 L470.91 333.35 L470.87 332.85 L470.83 332.35 L470.79 331.85 L470.75 331.35 L470.71 330.85 L470.67 330.35 L470.63 329.85 L470.59 329.35 L470.54 328.85 L470.50 328.35 L470.45 327.85 L470.40 327.35 L470.34 326.85 L470.29 326.35 L470.23 325.85 L470.16 325.35 L470.10 324.85 L470.03 324.35 L469.96 323.85 L469.89 323.35 L469.82 322.85 L469.75 322.35 L469.67 321.85 L469.60 321.35 L469.52 320.85 L469.45 320.35 L469.37 319.85 L469.30 319.35 L469.22 318.85 L469.15 318.35 L469.06 317.85 L468.98 317.35 L468.89 316.85 L468.80 316.35 L468.71 315.85 L468.62 315.35 L468.53 314.85 L468.44 314.35 L468.34 313.85 L468.25 313.35 L468.16 312.85 L468.08 312.35 L467.99 311.85 L467.91 311.35 L467.84 310.85 L467.76 310.35 L467.70 309.85 L467.63 309.35 L467.58 308.85 L467.52 308.35 L467.46 307.85 L467.41 307.35 L467.35 306.85 L467.30 306.35 L467.25 305.85 L467.20 305.35 L467.15 304.85 L467.10 304.35 L467.05 303.85 L467.01 303.35 L466.96 302.85 L466.92 302.35 L466.88 301.85 L466.84 301.35 L466.81 300.85 L466.77 300.35 L466.74 299.85 L466.71 299.35 L466.69 298.85 L466.66 298.35 Z" fill="#DF4E3F" stroke="#474747" stroke-width="0.95" stroke-linejoin="round"/>
<line x1="466.50" x2="466.50" y1="351.30" y2="466.50" stroke="#4e4e4e" stroke-width="0.85"/>
<line x1="466.50" x2="466.50" y1="401.60" y2="443.80" stroke="#4e4e4e" stroke-width="2.75" stroke-linecap="round"/>
<circle cx="466.50" cy="426.80" r="0.75" fill="#fff"/>
<path d="M610.79 339.87 L610.74 340.37 L610.68 340.87 L610.63 341.37 L610.58 341.87 L610.53 342.37 L610.48 342.87 L610.43 343.37 L610.38 343.87 L610.33 344.37 L610.29 344.87 L610.24 345.37 L610.19 345.87 L610.14 346.37 L610.09 346.87 L610.05 347.37 L610.00 347.87 L609.96 348.37 L609.91 348.87 L609.87 349.37 L609.82 349.87 L609.78 350.37 L609.73 350.87 L609.69 351.37 L609.64 351.87 L609.59 352.37 L609.53 352.87 L609.48 353.37 L609.43 353.87 L609.37 354.37 L609.32 354.87 L609.27 355.37 L609.22 355.87 L609.17 356.37 L609.13 356.87 L609.09 357.37 L609.05 357.87 L609.02 358.37 L608.99 358.87 L608.97 359.37 L608.95 359.87 L608.94 360.37 L608.94 360.87 L608.94 361.37 L608.94 361.87 L608.94 362.37 L608.94 362.87 L608.94 363.37 L608.94 363.87 L608.94 364.37 L608.94 364.87 L608.94 365.37 L608.94 365.87 L608.94 366.37 L608.94 366.87 L608.94 367.37 L608.93 367.87 L608.92 368.37 L608.91 368.87 L608.89 369.37 L608.87 369.87 L608.84 370.37 L608.82 370.87 L608.79 371.37 L608.75 371.87 L608.72 372.37 L608.68 372.87 L608.64 373.37 L608.61 373.87 L608.57 374.37 L608.52 374.87 L608.48 375.37 L608.44 375.87 L608.40 376.37 L608.36 376.87 L608.32 377.37 L608.27 377.87 L608.23 378.37 L608.18 378.87 L608.12 379.37 L608.07 379.87 L608.01 380.37 L607.95 380.87 L607.88 381.37 L607.82 381.87 L607.75 382.37 L607.68 382.87 L607.61 383.37 L607.54 383.87 L607.47 384.37 L607.39 384.87 L607.32 385.37 L607.24 385.87 L607.17 386.37 L607.09 386.87 L607.02 387.37 L606.94 387.87 L606.86 388.37 L606.79 388.87 L606.72 389.37 L606.64 389.87 L606.57 390.37 L606.50 390.87 L606.43 391.37 L606.36 391.87 L606.29 392.37 L606.22 392.87 L606.14 393.37 L606.07 393.87 L606.00 394.37 L605.92 394.87 L605.85 395.37 L605.77 395.87 L605.69 396.37 L605.61 396.87 L605.52 397.37 L605.43 397.87 L605.34 398.37 L605.24 398.87 L605.15 399.37 L605.04 399.87 L604.94 400.37 L604.83 400.87 L604.71 401.37 L604.59 401.87 L604.47 402.37 L604.34 402.87 L604.21 403.37 L604.07 403.87 L603.92 404.37 L603.77 404.87 L603.61 405.37 L603.44 405.87 L603.27 406.37 L603.08 406.87 L602.89 407.37 L602.69 407.87 L602.47 408.37 L602.23 408.87 L601.96 409.37 L601.67 409.87 L601.35 410.37 L601.01 410.87 L600.65 411.37 L600.27 411.87 L599.88 412.37 L599.48 412.87 L599.06 413.37 L598.63 413.87 L598.19 414.37 L597.75 414.87 L597.31 415.37 L596.86 415.87 L596.41 416.37 L595.96 416.87 L595.48 417.37 L594.99 417.87 L594.48 418.37 L593.95 418.87 L593.41 419.37 L592.86 419.87 L592.30 420.37 L591.73 420.87 L591.15 421.37 L590.56 421.87 L589.97 422.37 L589.38 422.87 L588.79 423.37 L588.20 423.87 L587.60 424.37 L587.02 424.87 L586.43 425.37 L585.85 425.87 L585.28 426.37 L584.70 426.87 L584.12 427.37 L583.54 427.87 L582.96 428.37 L582.37 428.87 L581.79 429.37 L581.20 429.87 L580.61 430.37 L580.01 430.87 L579.42 431.37 L578.82 431.87 L578.21 432.37 L577.60 432.87 L576.99 433.37 L576.37 433.87 L575.75 434.37 L575.12 434.87 L574.49 435.37 L573.85 435.87 L573.20 436.37 L572.54 436.87 L571.86 437.37 L571.17 437.87 L570.47 438.37 L569.76 438.87 L569.05 439.37 L568.34 439.87 L567.62 440.37 L566.91 440.87 L566.21 441.37 L565.51 441.87 L564.82 442.37 L564.14 442.87 L563.47 443.37 L562.82 443.87 L562.19 444.37 L561.55 444.87 L560.89 445.37 L560.23 445.87 L559.57 446.37 L558.93 446.87 L558.30 447.37 L557.69 447.87 L557.11 448.37 L556.56 448.87 L556.07 449.37 L555.62 449.87 L555.22 450.37 L554.85 450.87 L554.46 451.37 L554.10 451.87 L553.77 452.37 L553.49 452.87 L553.29 453.37 L553.19 453.87 L553.20 454.37 L553.28 454.87 L553.42 455.37 L553.62 455.87 L553.86 456.37 L554.13 456.87 L554.44 457.37 L554.76 457.87 L555.11 458.37 L555.48 458.87 L555.95 459.37 L556.54 459.87 L557.22 460.37 L557.99 460.87 L558.83 461.37 L559.73 461.87 L560.69 462.37 L561.68 462.87 L562.70 463.37 L563.73 463.87 L564.76 464.37 L565.80 464.87 L566.90 465.37 L568.08 465.87 L569.34 466.37 L570.66 466.87 L572.03 467.37 L573.44 467.87 L574.86 468.37 L576.30 468.87 L577.73 469.37 L579.14 469.87 L580.53 470.37 L581.87 470.87 L583.21 471.37 L584.58 471.87 L585.96 472.37 L587.36 472.87 L588.75 473.37 L590.12 473.87 L591.46 474.37 L592.75 474.87 L593.98 475.37 L595.13 475.87 L596.19 476.37 L597.18 476.87 L598.14 477.37 L599.06 477.87 L599.96 478.37 L600.82 478.87 L601.64 479.37 L602.43 479.87 L603.19 480.37 L603.91 480.87 L604.58 481.37 L605.22 481.87 L605.81 482.37 L606.35 482.87 L606.84 483.37 L607.30 483.87 L607.74 484.37 L608.17 484.87 L608.62 485.37 L609.08 485.87 L609.58 486.37 L610.08 486.87 L610.58 487.37 L610.58 487.38 L611.82 487.38 L611.82 487.37 L612.32 486.87 L612.82 486.37 L613.32 485.87 L613.78 485.37 L614.23 484.87 L614.66 484.37 L615.10 483.87 L615.56 483.37 L616.05 482.87 L616.59 482.37 L617.18 481.87 L617.82 481.37 L618.49 480.87 L619.21 480.37 L619.97 479.87 L620.76 479.37 L621.58 478.87 L622.44 478.37 L623.34 477.87 L624.26 477.37 L625.22 476.87 L626.21 476.37 L627.27 475.87 L628.42 475.37 L629.65 474.87 L630.94 474.37 L632.28 473.87 L633.65 473.37 L635.04 472.87 L636.44 472.37 L637.82 471.87 L639.19 471.37 L640.53 470.87 L641.87 470.37 L643.26 469.87 L644.67 469.37 L646.10 468.87 L647.54 468.37 L648.96 467.87 L650.37 467.37 L651.74 466.87 L653.06 466.37 L654.32 465.87 L655.50 465.37 L656.60 464.87 L657.64 464.37 L658.67 463.87 L659.70 463.37 L660.72 462.87 L661.71 462.37 L662.67 461.87 L663.57 461.37 L664.41 460.87 L665.18 460.37 L665.86 459.87 L666.45 459.37 L666.92 458.87 L667.29 458.37 L667.64 457.87 L667.96 457.37 L668.27 456.87 L668.54 456.37 L668.78 455.87 L668.98 455.37 L669.12 454.87 L669.20 454.37 L669.21 453.87 L669.11 453.37 L668.91 452.87 L668.63 452.37 L668.30 451.87 L667.94 451.37 L667.55 450.87 L667.18 450.37 L666.78 449.87 L666.33 449.37 L665.84 448.87 L665.29 448.37 L664.71 447.87 L664.10 447.37 L663.47 446.87 L662.83 446.37 L662.17 445.87 L661.51 445.37 L660.85 444.87 L660.21 444.37 L659.58 443.87 L658.93 443.37 L658.26 442.87 L657.58 442.37 L656.89 441.87 L656.19 441.37 L655.49 440.87 L654.78 440.37 L654.06 439.87 L653.35 439.37 L652.64 438.87 L651.93 438.37 L651.23 437.87 L650.54 437.37 L649.86 436.87 L649.20 436.37 L648.55 435.87 L647.91 435.37 L647.28 434.87 L646.65 434.37 L646.03 433.87 L645.41 433.37 L644.80 432.87 L644.19 432.37 L643.58 431.87 L642.98 431.37 L642.39 430.87 L641.79 430.37 L641.20 429.87 L640.61 429.37 L640.03 428.87 L639.44 428.37 L638.86 427.87 L638.28 427.37 L637.70 426.87 L637.12 426.37 L636.55 425.87 L635.97 425.37 L635.38 424.87 L634.80 424.37 L634.20 423.87 L633.61 423.37 L633.02 422.87 L632.43 422.37 L631.84 421.87 L631.25 421.37 L630.67 420.87 L630.10 420.37 L629.54 419.87 L628.99 419.37 L628.45 418.87 L627.92 418.37 L627.41 417.87 L626.92 417.37 L626.44 416.87 L625.99 416.37 L625.54 415.87 L625.09 415.37 L624.65 414.87 L624.21 414.37 L623.77 413.87 L623.34 413.37 L622.92 412.87 L622.52 412.37 L622.13 411.87 L621.75 411.37 L621.39 410.87 L621.05 410.37 L620.73 409.87 L620.44 409.37 L620.17 408.87 L619.93 408.37 L619.71 407.87 L619.51 407.37 L619.32 406.87 L619.13 406.37 L618.96 405.87 L618.79 405.37 L618.63 404.87 L618.48 404.37 L618.33 403.87 L618.19 403.37 L618.06 402.87 L617.93 402.37 L617.81 401.87 L617.69 401.37 L617.57 400.87 L617.46 400.37 L617.36 399.87 L617.25 399.37 L617.16 398.87 L617.06 398.37 L616.97 397.87 L616.88 397.37 L616.79 396.87 L616.71 396.37 L616.63 395.87 L616.55 395.37 L616.48 394.87 L616.40 394.37 L616.33 393.87 L616.26 393.37 L616.18 392.87 L616.11 392.37 L616.04 391.87 L615.97 391.37 L615.90 390.87 L615.83 390.37 L615.76 389.87 L615.68 389.37 L615.61 388.87 L615.54 388.37 L615.46 387.87 L615.38 387.37 L615.31 386.87 L615.23 386.37 L615.16 385.87 L615.08 385.37 L615.01 384.87 L614.93 384.37 L614.86 383.87 L614.79 383.37 L614.72 382.87 L614.65 382.37 L614.58 381.87 L614.52 381.37 L614.45 380.87 L614.39 380.37 L614.33 379.87 L614.28 379.37 L614.22 378.87 L614.17 378.37 L614.13 377.87 L614.08 377.37 L614.04 376.87 L614.00 376.37 L613.96 375.87 L613.92 375.37 L613.88 374.87 L613.83 374.37 L613.79 373.87 L613.76 373.37 L613.72 372.87 L613.68 372.37 L613.65 371.87 L613.61 371.37 L613.58 370.87 L613.56 370.37 L613.53 369.87 L613.51 369.37 L613.49 368.87 L613.48 368.37 L613.47 367.87 L613.46 367.37 L613.46 366.87 L613.46 366.37 L613.46 365.87 L613.46 365.37 L613.46 364.87 L613.46 364.37 L613.46 363.87 L613.46 363.37 L613.46 362.87 L613.46 362.37 L613.46 361.87 L613.46 361.37 L613.46 360.87 L613.46 360.37 L613.45 359.87 L613.43 359.37 L613.41 358.87 L613.38 358.37 L613.35 357.87 L613.31 357.37 L613.27 356.87 L613.23 356.37 L613.18 355.87 L613.13 355.37 L613.08 354.87 L613.03 354.37 L612.97 353.87 L612.92 353.37 L612.87 352.87 L612.81 352.37 L612.76 351.87 L612.71 351.37 L612.67 350.87 L612.62 350.37 L612.58 349.87 L612.53 349.37 L612.49 348.87 L612.44 348.37 L612.40 347.87 L612.35 347.37 L612.31 346.87 L612.26 346.37 L612.21 345.87 L612.16 345.37 L612.11 344.87 L612.07 344.37 L612.02 343.87 L611.97 343.37 L611.92 342.87 L611.87 342.37 L611.82 341.87 L611.77 341.37 L611.72 340.87 L611.66 340.37 L611.61 339.87 Z" fill="#DFC02D" stroke="#474747" stroke-width="0.95" stroke-linejoin="round"/>
<line x1="611.20" x2="611.20" y1="407.10" y2="465.80" stroke="#4e4e4e" stroke-width="0.85"/>
<line x1="611.20" x2="611.20" y1="433.20" y2="458.20" stroke="#4e4e4e" stroke-width="2.75" stroke-linecap="round"/>
<circle cx="611.20" cy="451.00" r="0.75" fill="#fff"/>
<rect x="394.15" y="289.00" width="289.40" height="218.40" fill="none" stroke="#848484" stroke-width="1"/>
<line x1="391.55" x2="394.15" y1="494.37" y2="494.37" stroke="#555" stroke-width="0.8"/><text class="yt" transform="translate(389.35 497.17) scale(0.86 1)">−1</text>
<line x1="391.55" x2="394.15" y1="467.20" y2="467.20" stroke="#555" stroke-width="0.8"/><text class="yt" transform="translate(389.35 470.00) scale(0.86 1)">0</text>
<line x1="391.55" x2="394.15" y1="440.03" y2="440.03" stroke="#555" stroke-width="0.8"/><text class="yt" transform="translate(389.35 442.83) scale(0.86 1)">1</text>
<line x1="391.55" x2="394.15" y1="412.86" y2="412.86" stroke="#555" stroke-width="0.8"/><text class="yt" transform="translate(389.35 415.66) scale(0.86 1)">2</text>
<line x1="391.55" x2="394.15" y1="385.69" y2="385.69" stroke="#555" stroke-width="0.8"/><text class="yt" transform="translate(389.35 388.49) scale(0.86 1)">3</text>
<line x1="391.55" x2="394.15" y1="358.52" y2="358.52" stroke="#555" stroke-width="0.8"/><text class="yt" transform="translate(389.35 361.32) scale(0.86 1)">4</text>
<line x1="391.55" x2="394.15" y1="331.35" y2="331.35" stroke="#555" stroke-width="0.8"/><text class="yt" transform="translate(389.35 334.15) scale(0.86 1)">5</text>
<line x1="391.55" x2="394.15" y1="304.18" y2="304.18" stroke="#555" stroke-width="0.8"/><text class="yt" transform="translate(389.35 306.98) scale(0.86 1)">6</text>
<line x1="466.50" x2="466.50" y1="507.40" y2="510.00" stroke="#555" stroke-width="0.8"/><text class="xl" transform="translate(466.20 518.50) scale(0.95 1)">AC</text>
<line x1="611.20" x2="611.20" y1="507.40" y2="510.00" stroke="#555" stroke-width="0.8"/><text class="xl" transform="translate(610.90 518.50) scale(0.95 1)">DL</text>
<text class="t" transform="translate(538.65 285.20) scale(1.005 1)">Direct SC-WNL</text>
<text class="yl" transform="translate(375.20 400.00) rotate(-90) scale(1.045 1)">MAE (Gy)</text>
</g>
<g id="a5">
<path d="M102.65 580.76 L102.65 581.26 L102.65 581.76 L102.65 582.26 L102.65 582.76 L102.63 583.26 L102.60 583.76 L102.58 584.26 L102.56 584.76 L102.54 585.26 L102.52 585.76 L102.50 586.26 L102.48 586.76 L102.46 587.26 L102.44 587.76 L102.42 588.26 L102.39 588.76 L102.37 589.26 L102.35 589.76 L102.33 590.26 L102.31 590.76 L102.29 591.26 L102.27 591.76 L102.25 592.26 L102.23 592.76 L102.21 593.26 L102.19 593.76 L102.17 594.26 L102.15 594.76 L102.13 595.26 L102.11 595.76 L102.09 596.26 L102.07 596.76 L102.04 597.26 L102.02 597.76 L102.00 598.26 L101.98 598.76 L101.96 599.26 L101.94 599.76 L101.92 600.26 L101.90 600.76 L101.88 601.26 L101.86 601.76 L101.84 602.26 L101.82 602.76 L101.79 603.26 L101.77 603.76 L101.75 604.26 L101.73 604.76 L101.71 605.26 L101.70 605.76 L101.68 606.26 L101.66 606.76 L101.64 607.26 L101.62 607.76 L101.60 608.26 L101.58 608.76 L101.57 609.26 L101.55 609.76 L101.53 610.26 L101.52 610.76 L101.50 611.26 L101.48 611.76 L101.47 612.26 L101.45 612.76 L101.43 613.26 L101.42 613.76 L101.40 614.26 L101.39 614.76 L101.37 615.26 L101.35 615.76 L101.34 616.26 L101.32 616.76 L101.31 617.26 L101.29 617.76 L101.28 618.26 L101.27 618.76 L101.25 619.26 L101.24 619.76 L101.22 620.26 L101.21 620.76 L101.20 621.26 L101.18 621.76 L101.17 622.26 L101.16 622.76 L101.15 623.26 L101.14 623.76 L101.13 624.26 L101.12 624.76 L101.11 625.26 L101.10 625.76 L101.09 626.26 L101.08 626.76 L101.07 627.26 L101.06 627.76 L101.05 628.26 L101.05 628.76 L101.04 629.26 L101.03 629.76 L101.02 630.26 L101.01 630.76 L101.00 631.26 L101.00 631.76 L100.99 632.26 L100.98 632.76 L100.97 633.26 L100.96 633.76 L100.94 634.26 L100.93 634.76 L100.92 635.26 L100.91 635.76 L100.89 636.26 L100.88 636.76 L100.86 637.26 L100.84 637.76 L100.82 638.26 L100.80 638.76 L100.78 639.26 L100.76 639.76 L100.73 640.26 L100.71 640.76 L100.68 641.26 L100.65 641.76 L100.62 642.26 L100.59 642.76 L100.55 643.26 L100.52 643.76 L100.48 644.26 L100.45 644.76 L100.41 645.26 L100.37 645.76 L100.34 646.26 L100.30 646.76 L100.25 647.26 L100.21 647.76 L100.16 648.26 L100.11 648.76 L100.06 649.26 L100.00 649.76 L99.95 650.26 L99.89 650.76 L99.83 651.26 L99.76 651.76 L99.70 652.26 L99.63 652.76 L99.56 653.26 L99.49 653.76 L99.42 654.26 L99.34 654.76 L99.26 655.26 L99.18 655.76 L99.09 656.26 L98.99 656.76 L98.89 657.26 L98.79 657.76 L98.68 658.26 L98.58 658.76 L98.47 659.26 L98.35 659.76 L98.24 660.26 L98.12 660.76 L98.00 661.26 L97.88 661.76 L97.76 662.26 L97.64 662.76 L97.53 663.26 L97.41 663.76 L97.29 664.26 L97.17 664.76 L97.05 665.26 L96.93 665.76 L96.80 666.26 L96.67 666.76 L96.55 667.26 L96.42 667.76 L96.28 668.26 L96.15 668.76 L96.02 669.26 L95.89 669.76 L95.76 670.26 L95.62 670.76 L95.49 671.26 L95.36 671.76 L95.23 672.26 L95.10 672.76 L94.97 673.26 L94.84 673.76 L94.72 674.26 L94.60 674.76 L94.48 675.26 L94.36 675.76 L94.24 676.26 L94.12 676.76 L94.00 677.26 L93.88 677.76 L93.75 678.26 L93.63 678.76 L93.50 679.26 L93.37 679.76 L93.24 680.26 L93.10 680.76 L92.96 681.26 L92.82 681.76 L92.67 682.26 L92.53 682.76 L92.38 683.26 L92.23 683.76 L92.08 684.26 L91.93 684.76 L91.79 685.26 L91.64 685.76 L91.49 686.26 L91.35 686.76 L91.20 687.26 L91.05 687.76 L90.91 688.26 L90.76 688.76 L90.61 689.26 L90.46 689.76 L90.31 690.26 L90.16 690.76 L90.01 691.26 L89.86 691.76 L89.72 692.26 L89.58 692.76 L89.44 693.26 L89.30 693.76 L89.16 694.26 L89.03 694.76 L88.90 695.26 L88.78 695.76 L88.66 696.26 L88.54 696.76 L88.42 697.26 L88.30 697.76 L88.19 698.26 L88.07 698.76 L87.96 699.26 L87.85 699.76 L87.74 700.26 L87.63 700.76 L87.53 701.26 L87.42 701.76 L87.32 702.26 L87.22 702.76 L87.12 703.26 L87.02 703.76 L86.92 704.26 L86.83 704.76 L86.73 705.26 L86.64 705.76 L86.55 706.26 L86.46 706.76 L86.37 707.26 L86.28 707.76 L86.19 708.26 L86.10 708.76 L86.02 709.26 L85.93 709.76 L85.85 710.26 L85.76 710.76 L85.68 711.26 L85.60 711.76 L85.53 712.26 L85.45 712.76 L85.38 713.26 L85.32 713.76 L85.25 714.26 L85.19 714.76 L85.13 715.26 L85.08 715.76 L85.02 716.26 L84.97 716.76 L84.91 717.26 L84.85 717.76 L84.80 718.26 L84.74 718.76 L84.69 719.26 L84.65 719.76 L84.60 720.26 L84.56 720.76 L84.53 721.26 L84.51 721.76 L84.49 722.26 L84.47 722.76 L84.47 723.26 L84.47 723.76 L84.48 724.26 L84.49 724.76 L84.50 725.26 L84.52 725.76 L84.54 726.26 L84.57 726.76 L84.59 727.26 L84.62 727.76 L84.65 728.26 L84.69 728.76 L84.72 729.26 L84.76 729.76 L84.80 730.26 L84.84 730.76 L84.88 731.26 L84.94 731.76 L85.01 732.26 L85.10 732.76 L85.20 733.26 L85.31 733.76 L85.43 734.26 L85.56 734.76 L85.70 735.26 L85.84 735.76 L85.99 736.26 L86.15 736.76 L86.30 737.26 L86.46 737.76 L86.62 738.26 L86.78 738.76 L86.94 739.26 L87.11 739.76 L87.28 740.26 L87.47 740.76 L87.67 741.26 L87.87 741.76 L88.08 742.26 L88.29 742.76 L88.51 743.26 L88.73 743.76 L88.95 744.26 L89.18 744.76 L89.41 745.26 L89.64 745.76 L89.87 746.26 L90.10 746.76 L90.32 747.26 L90.56 747.76 L90.80 748.26 L91.04 748.76 L91.28 749.26 L91.53 749.76 L91.78 750.26 L92.04 750.76 L92.29 751.26 L92.55 751.76 L92.80 752.26 L93.06 752.76 L93.32 753.26 L93.58 753.76 L93.83 754.26 L94.09 754.76 L94.34 755.26 L94.60 755.76 L94.85 756.26 L95.10 756.76 L95.37 757.26 L95.64 757.76 L95.91 758.26 L96.18 758.76 L96.45 759.26 L96.71 759.76 L96.98 760.26 L97.24 760.76 L97.49 761.26 L97.73 761.76 L97.97 762.26 L98.19 762.76 L98.40 763.26 L98.60 763.76 L98.78 764.26 L98.96 764.76 L99.13 765.26 L99.30 765.76 L99.46 766.26 L99.62 766.76 L99.77 767.26 L99.92 767.76 L100.06 768.26 L100.20 768.76 L100.34 769.26 L100.48 769.76 L100.61 770.26 L100.74 770.76 L100.87 771.26 L101.00 771.76 L101.12 772.26 L101.25 772.76 L101.37 773.26 L101.50 773.76 L101.61 774.26 L101.73 774.76 L101.84 775.26 L101.94 775.76 L102.04 776.26 L102.12 776.76 L102.21 777.26 L102.29 777.76 L102.36 778.26 L102.43 778.76 L102.50 779.26 L102.56 779.76 L102.61 780.26 L102.65 780.76 L102.65 780.81 L102.95 780.81 L102.95 780.76 L102.99 780.26 L103.04 779.76 L103.10 779.26 L103.17 778.76 L103.24 778.26 L103.31 777.76 L103.39 777.26 L103.48 776.76 L103.56 776.26 L103.66 775.76 L103.76 775.26 L103.87 774.76 L103.99 774.26 L104.10 773.76 L104.23 773.26 L104.35 772.76 L104.48 772.26 L104.60 771.76 L104.73 771.26 L104.86 770.76 L104.99 770.26 L105.12 769.76 L105.26 769.26 L105.40 768.76 L105.54 768.26 L105.68 767.76 L105.83 767.26 L105.98 766.76 L106.14 766.26 L106.30 765.76 L106.47 765.26 L106.64 764.76 L106.82 764.26 L107.00 763.76 L107.20 763.26 L107.41 762.76 L107.63 762.26 L107.87 761.76 L108.11 761.26 L108.36 760.76 L108.62 760.26 L108.89 759.76 L109.15 759.26 L109.42 758.76 L109.69 758.26 L109.96 757.76 L110.23 757.26 L110.50 756.76 L110.75 756.26 L111.00 755.76 L111.26 755.26 L111.51 754.76 L111.77 754.26 L112.02 753.76 L112.28 753.26 L112.54 752.76 L112.80 752.26 L113.05 751.76 L113.31 751.26 L113.56 750.76 L113.82 750.26 L114.07 749.76 L114.32 749.26 L114.56 748.76 L114.80 748.26 L115.04 747.76 L115.28 747.26 L115.50 746.76 L115.73 746.26 L115.96 745.76 L116.19 745.26 L116.42 744.76 L116.65 744.26 L116.87 743.76 L117.09 743.26 L117.31 742.76 L117.52 742.26 L117.73 741.76 L117.93 741.26 L118.13 740.76 L118.32 740.26 L118.49 739.76 L118.66 739.26 L118.82 738.76 L118.98 738.26 L119.14 737.76 L119.30 737.26 L119.45 736.76 L119.61 736.26 L119.76 735.76 L119.90 735.26 L120.04 734.76 L120.17 734.26 L120.29 733.76 L120.40 733.26 L120.50 732.76 L120.59 732.26 L120.66 731.76 L120.72 731.26 L120.76 730.76 L120.80 730.26 L120.84 729.76 L120.88 729.26 L120.91 728.76 L120.95 728.26 L120.98 727.76 L121.01 727.26 L121.03 726.76 L121.06 726.26 L121.08 725.76 L121.10 725.26 L121.11 724.76 L121.12 724.26 L121.13 723.76 L121.13 723.26 L121.13 722.76 L121.11 722.26 L121.09 721.76 L121.07 721.26 L121.04 720.76 L121.00 720.26 L120.95 719.76 L120.91 719.26 L120.86 718.76 L120.80 718.26 L120.75 717.76 L120.69 717.26 L120.63 716.76 L120.58 716.26 L120.52 715.76 L120.47 715.26 L120.41 714.76 L120.35 714.26 L120.28 713.76 L120.22 713.26 L120.15 712.76 L120.07 712.26 L120.00 711.76 L119.92 711.26 L119.84 710.76 L119.75 710.26 L119.67 709.76 L119.58 709.26 L119.50 708.76 L119.41 708.26 L119.32 707.76 L119.23 707.26 L119.14 706.76 L119.05 706.26 L118.96 705.76 L118.87 705.26 L118.77 704.76 L118.68 704.26 L118.58 703.76 L118.48 703.26 L118.38 702.76 L118.28 702.26 L118.18 701.76 L118.07 701.26 L117.97 700.76 L117.86 700.26 L117.75 699.76 L117.64 699.26 L117.53 698.76 L117.41 698.26 L117.30 697.76 L117.18 697.26 L117.06 696.76 L116.94 696.26 L116.82 695.76 L116.70 695.26 L116.57 694.76 L116.44 694.26 L116.30 693.76 L116.16 693.26 L116.02 692.76 L115.88 692.26 L115.74 691.76 L115.59 691.26 L115.44 690.76 L115.29 690.26 L115.14 689.76 L114.99 689.26 L114.84 688.76 L114.69 688.26 L114.55 687.76 L114.40 687.26 L114.25 686.76 L114.11 686.26 L113.96 685.76 L113.81 685.26 L113.67 684.76 L113.52 684.26 L113.37 683.76 L113.22 683.26 L113.07 682.76 L112.93 682.26 L112.78 681.76 L112.64 681.26 L112.50 680.76 L112.36 680.26 L112.23 679.76 L112.10 679.26 L111.97 678.76 L111.85 678.26 L111.72 677.76 L111.60 677.26 L111.48 676.76 L111.36 676.26 L111.24 675.76 L111.12 675.26 L111.00 674.76 L110.88 674.26 L110.76 673.76 L110.63 673.26 L110.50 672.76 L110.37 672.26 L110.24 671.76 L110.11 671.26 L109.98 670.76 L109.84 670.26 L109.71 669.76 L109.58 669.26 L109.45 668.76 L109.32 668.26 L109.18 667.76 L109.05 667.26 L108.93 666.76 L108.80 666.26 L108.67 665.76 L108.55 665.26 L108.43 664.76 L108.31 664.26 L108.19 663.76 L108.07 663.26 L107.96 662.76 L107.84 662.26 L107.72 661.76 L107.60 661.26 L107.48 660.76 L107.36 660.26 L107.25 659.76 L107.13 659.26 L107.02 658.76 L106.92 658.26 L106.81 657.76 L106.71 657.26 L106.61 656.76 L106.51 656.26 L106.42 655.76 L106.34 655.26 L106.26 654.76 L106.18 654.26 L106.11 653.76 L106.04 653.26 L105.97 652.76 L105.90 652.26 L105.84 651.76 L105.77 651.26 L105.71 650.76 L105.65 650.26 L105.60 649.76 L105.54 649.26 L105.49 648.76 L105.44 648.26 L105.39 647.76 L105.35 647.26 L105.30 646.76 L105.26 646.26 L105.23 645.76 L105.19 645.26 L105.15 644.76 L105.12 644.26 L105.08 643.76 L105.05 643.26 L105.01 642.76 L104.98 642.26 L104.95 641.76 L104.92 641.26 L104.89 640.76 L104.87 640.26 L104.84 639.76 L104.82 639.26 L104.80 638.76 L104.78 638.26 L104.76 637.76 L104.74 637.26 L104.72 636.76 L104.71 636.26 L104.69 635.76 L104.68 635.26 L104.67 634.76 L104.66 634.26 L104.64 633.76 L104.63 633.26 L104.62 632.76 L104.61 632.26 L104.60 631.76 L104.60 631.26 L104.59 630.76 L104.58 630.26 L104.57 629.76 L104.56 629.26 L104.55 628.76 L104.55 628.26 L104.54 627.76 L104.53 627.26 L104.52 626.76 L104.51 626.26 L104.50 625.76 L104.49 625.26 L104.48 624.76 L104.47 624.26 L104.46 623.76 L104.45 623.26 L104.44 622.76 L104.43 622.26 L104.42 621.76 L104.40 621.26 L104.39 620.76 L104.38 620.26 L104.36 619.76 L104.35 619.26 L104.33 618.76 L104.32 618.26 L104.31 617.76 L104.29 617.26 L104.28 616.76 L104.26 616.26 L104.25 615.76 L104.23 615.26 L104.21 614.76 L104.20 614.26 L104.18 613.76 L104.17 613.26 L104.15 612.76 L104.13 612.26 L104.12 611.76 L104.10 611.26 L104.08 610.76 L104.07 610.26 L104.05 609.76 L104.03 609.26 L104.02 608.76 L104.00 608.26 L103.98 607.76 L103.96 607.26 L103.94 606.76 L103.92 606.26 L103.90 605.76 L103.89 605.26 L103.87 604.76 L103.85 604.26 L103.83 603.76 L103.81 603.26 L103.78 602.76 L103.76 602.26 L103.74 601.76 L103.72 601.26 L103.70 600.76 L103.68 600.26 L103.66 599.76 L103.64 599.26 L103.62 598.76 L103.60 598.26 L103.58 597.76 L103.56 597.26 L103.53 596.76 L103.51 596.26 L103.49 595.76 L103.47 595.26 L103.45 594.76 L103.43 594.26 L103.41 593.76 L103.39 593.26 L103.37 592.76 L103.35 592.26 L103.33 591.76 L103.31 591.26 L103.29 590.76 L103.27 590.26 L103.25 589.76 L103.23 589.26 L103.21 588.76 L103.18 588.26 L103.16 587.76 L103.14 587.26 L103.12 586.76 L103.10 586.26 L103.08 585.76 L103.06 585.26 L103.04 584.76 L103.02 584.26 L103.00 583.76 L102.97 583.26 L102.95 582.76 L102.95 582.26 L102.95 581.76 L102.95 581.26 L102.95 580.76 Z" fill="#606060" stroke="#333333" stroke-width="0.95" stroke-linejoin="round"/>
<line x1="102.80" x2="102.80" y1="640.80" y2="750.00" stroke="#3a3a3a" stroke-width="0.85"/>
<line x1="102.80" x2="102.80" y1="692.80" y2="732.70" stroke="#3a3a3a" stroke-width="2.75" stroke-linecap="round"/>
<circle cx="102.80" cy="715.60" r="0.75" fill="#fff"/>
<path d="M247.18 692.63 L247.08 693.13 L246.96 693.63 L246.84 694.13 L246.70 694.63 L246.55 695.13 L246.39 695.63 L246.23 696.13 L246.05 696.63 L245.86 697.13 L245.65 697.63 L245.43 698.13 L245.19 698.63 L244.95 699.13 L244.70 699.63 L244.44 700.13 L244.18 700.63 L243.89 701.13 L243.58 701.63 L243.25 702.13 L242.92 702.63 L242.58 703.13 L242.26 703.63 L241.95 704.13 L241.66 704.63 L241.38 705.13 L241.10 705.63 L240.82 706.13 L240.54 706.63 L240.28 707.13 L240.04 707.63 L239.82 708.13 L239.63 708.63 L239.46 709.13 L239.29 709.63 L239.14 710.13 L238.99 710.63 L238.85 711.13 L238.73 711.63 L238.63 712.13 L238.54 712.63 L238.49 713.13 L238.45 713.63 L238.42 714.13 L238.39 714.63 L238.37 715.13 L238.35 715.63 L238.32 716.13 L238.29 716.63 L238.25 717.13 L238.21 717.63 L238.16 718.13 L238.11 718.63 L238.05 719.13 L237.98 719.63 L237.91 720.13 L237.82 720.63 L237.73 721.13 L237.61 721.63 L237.45 722.13 L237.25 722.63 L237.03 723.13 L236.79 723.63 L236.52 724.13 L236.23 724.63 L235.93 725.13 L235.61 725.63 L235.23 726.13 L234.80 726.63 L234.33 727.13 L233.82 727.63 L233.27 728.13 L232.69 728.63 L232.08 729.13 L231.45 729.63 L230.77 730.13 L230.02 730.63 L229.21 731.13 L228.35 731.63 L227.43 732.13 L226.46 732.63 L225.44 733.13 L224.35 733.63 L223.14 734.13 L221.84 734.63 L220.47 735.13 L219.04 735.63 L217.57 736.13 L216.08 736.63 L214.50 737.13 L212.85 737.63 L211.14 738.13 L209.41 738.63 L207.69 739.13 L206.01 739.63 L204.28 740.13 L202.51 740.63 L200.73 741.13 L199.00 741.63 L197.38 742.13 L195.92 742.63 L194.60 743.13 L193.32 743.63 L192.13 744.13 L191.12 744.63 L190.35 745.13 L189.77 745.63 L189.32 746.13 L189.23 746.63 L189.56 747.13 L190.16 747.63 L190.91 748.13 L192.13 748.63 L193.93 749.13 L196.08 749.63 L198.35 750.13 L200.53 750.63 L202.57 751.13 L204.66 751.63 L206.80 752.13 L208.97 752.63 L211.15 753.13 L213.34 753.63 L215.51 754.13 L217.67 754.63 L219.91 755.13 L222.21 755.63 L224.52 756.13 L226.77 756.63 L228.92 757.13 L230.90 757.63 L232.66 758.13 L234.24 758.63 L235.70 759.13 L237.08 759.63 L238.37 760.13 L239.58 760.63 L240.74 761.13 L241.81 761.63 L242.73 762.13 L243.63 762.63 L244.65 763.13 L245.91 763.63 L246.86 763.96 L248.14 763.96 L249.09 763.63 L250.35 763.13 L251.37 762.63 L252.27 762.13 L253.19 761.63 L254.26 761.13 L255.42 760.63 L256.63 760.13 L257.92 759.63 L259.30 759.13 L260.76 758.63 L262.34 758.13 L264.10 757.63 L266.08 757.13 L268.23 756.63 L270.48 756.13 L272.79 755.63 L275.09 755.13 L277.33 754.63 L279.49 754.13 L281.66 753.63 L283.85 753.13 L286.03 752.63 L288.20 752.13 L290.34 751.63 L292.43 751.13 L294.47 750.63 L296.65 750.13 L298.92 749.63 L301.07 749.13 L302.87 748.63 L304.09 748.13 L304.84 747.63 L305.44 747.13 L305.77 746.63 L305.68 746.13 L305.23 745.63 L304.65 745.13 L303.88 744.63 L302.87 744.13 L301.68 743.63 L300.40 743.13 L299.08 742.63 L297.62 742.13 L296.00 741.63 L294.27 741.13 L292.49 740.63 L290.72 740.13 L288.99 739.63 L287.31 739.13 L285.59 738.63 L283.86 738.13 L282.15 737.63 L280.50 737.13 L278.92 736.63 L277.43 736.13 L275.96 735.63 L274.53 735.13 L273.16 734.63 L271.86 734.13 L270.65 733.63 L269.56 733.13 L268.54 732.63 L267.57 732.13 L266.65 731.63 L265.79 731.13 L264.98 730.63 L264.23 730.13 L263.55 729.63 L262.92 729.13 L262.31 728.63 L261.73 728.13 L261.18 727.63 L260.67 727.13 L260.20 726.63 L259.77 726.13 L259.39 725.63 L259.07 725.13 L258.77 724.63 L258.48 724.13 L258.21 723.63 L257.97 723.13 L257.75 722.63 L257.55 722.13 L257.39 721.63 L257.27 721.13 L257.18 720.63 L257.09 720.13 L257.02 719.63 L256.95 719.13 L256.89 718.63 L256.84 718.13 L256.79 717.63 L256.75 717.13 L256.71 716.63 L256.68 716.13 L256.65 715.63 L256.63 715.13 L256.61 714.63 L256.58 714.13 L256.55 713.63 L256.51 713.13 L256.46 712.63 L256.37 712.13 L256.27 711.63 L256.15 711.13 L256.01 710.63 L255.86 710.13 L255.71 709.63 L255.54 709.13 L255.37 708.63 L255.18 708.13 L254.96 707.63 L254.72 707.13 L254.46 706.63 L254.18 706.13 L253.90 705.63 L253.62 705.13 L253.34 704.63 L253.05 704.13 L252.74 703.63 L252.42 703.13 L252.08 702.63 L251.75 702.13 L251.42 701.63 L251.11 701.13 L250.82 700.63 L250.56 700.13 L250.30 699.63 L250.05 699.13 L249.81 698.63 L249.57 698.13 L249.35 697.63 L249.14 697.13 L248.95 696.63 L248.77 696.13 L248.61 695.63 L248.45 695.13 L248.30 694.63 L248.16 694.13 L248.04 693.63 L247.92 693.13 L247.82 692.63 Z" fill="#C3D234" stroke="#333333" stroke-width="0.95" stroke-linejoin="round"/>
<line x1="247.50" x2="247.50" y1="718.90" y2="751.80" stroke="#3a3a3a" stroke-width="0.85"/>
<line x1="247.50" x2="247.50" y1="734.20" y2="747.90" stroke="#3a3a3a" stroke-width="2.75" stroke-linecap="round"/>
<circle cx="247.50" cy="745.10" r="0.75" fill="#fff"/>
<rect x="30.45" y="571.50" width="289.40" height="218.80" fill="none" stroke="#848484" stroke-width="1"/>
<line x1="27.85" x2="30.45" y1="777.52" y2="777.52" stroke="#555" stroke-width="0.8"/><text class="yt" transform="translate(25.65 780.32) scale(0.86 1)">−25</text>
<line x1="27.85" x2="30.45" y1="751.90" y2="751.90" stroke="#555" stroke-width="0.8"/><text class="yt" transform="translate(25.65 754.70) scale(0.86 1)">0</text>
<line x1="27.85" x2="30.45" y1="726.27" y2="726.27" stroke="#555" stroke-width="0.8"/><text class="yt" transform="translate(25.65 729.07) scale(0.86 1)">25</text>
<line x1="27.85" x2="30.45" y1="700.65" y2="700.65" stroke="#555" stroke-width="0.8"/><text class="yt" transform="translate(25.65 703.45) scale(0.86 1)">50</text>
<line x1="27.85" x2="30.45" y1="675.02" y2="675.02" stroke="#555" stroke-width="0.8"/><text class="yt" transform="translate(25.65 677.82) scale(0.86 1)">75</text>
<line x1="27.85" x2="30.45" y1="649.40" y2="649.40" stroke="#555" stroke-width="0.8"/><text class="yt" transform="translate(25.65 652.20) scale(0.86 1)">100</text>
<line x1="27.85" x2="30.45" y1="623.77" y2="623.77" stroke="#555" stroke-width="0.8"/><text class="yt" transform="translate(25.65 626.57) scale(0.86 1)">125</text>
<line x1="27.85" x2="30.45" y1="598.15" y2="598.15" stroke="#555" stroke-width="0.8"/><text class="yt" transform="translate(25.65 600.95) scale(0.86 1)">150</text>
<line x1="27.85" x2="30.45" y1="572.52" y2="572.52" stroke="#555" stroke-width="0.8"/><text class="yt" transform="translate(25.65 575.32) scale(0.86 1)">175</text>
<line x1="102.80" x2="102.80" y1="790.30" y2="792.90" stroke="#555" stroke-width="0.8"/><text class="xl" transform="translate(102.50 801.40) scale(0.95 1)">NC</text>
<line x1="247.50" x2="247.50" y1="790.30" y2="792.90" stroke="#555" stroke-width="0.8"/><text class="xl" transform="translate(247.20 801.40) scale(0.95 1)">DL</text>
<text class="t" transform="translate(174.95 567.70) scale(1.005 1)">Direct ASC-Tumor</text>
<text class="yl" transform="translate(7.40 682.70) rotate(-90) scale(1.045 1)">MAE (Gy)</text>
</g>
<g id="a6">
<path d="M466.32 581.13 L466.29 581.63 L466.25 582.13 L466.21 582.63 L466.17 583.13 L466.13 583.63 L466.08 584.13 L466.04 584.63 L465.99 585.13 L465.94 585.63 L465.88 586.13 L465.83 586.63 L465.77 587.13 L465.72 587.63 L465.66 588.13 L465.60 588.63 L465.54 589.13 L465.48 589.63 L465.41 590.13 L465.35 590.63 L465.28 591.13 L465.22 591.63 L465.15 592.13 L465.08 592.63 L465.01 593.13 L464.93 593.63 L464.85 594.13 L464.77 594.63 L464.68 595.13 L464.59 595.63 L464.49 596.13 L464.40 596.63 L464.30 597.13 L464.20 597.63 L464.10 598.13 L464.00 598.63 L463.90 599.13 L463.80 599.63 L463.70 600.13 L463.60 600.63 L463.51 601.13 L463.42 601.63 L463.33 602.13 L463.24 602.63 L463.15 603.13 L463.07 603.63 L462.99 604.13 L462.91 604.63 L462.82 605.13 L462.74 605.63 L462.66 606.13 L462.57 606.63 L462.49 607.13 L462.41 607.63 L462.33 608.13 L462.25 608.63 L462.18 609.13 L462.10 609.63 L462.03 610.13 L461.96 610.63 L461.89 611.13 L461.82 611.63 L461.76 612.13 L461.70 612.63 L461.64 613.13 L461.59 613.63 L461.53 614.13 L461.48 614.63 L461.43 615.13 L461.39 615.63 L461.34 616.13 L461.30 616.63 L461.26 617.13 L461.22 617.63 L461.18 618.13 L461.14 618.63 L461.10 619.13 L461.06 619.63 L461.02 620.13 L460.99 620.63 L460.95 621.13 L460.91 621.63 L460.87 622.13 L460.83 622.63 L460.79 623.13 L460.75 623.63 L460.71 624.13 L460.67 624.63 L460.63 625.13 L460.59 625.63 L460.55 626.13 L460.52 626.63 L460.48 627.13 L460.44 627.63 L460.41 628.13 L460.37 628.63 L460.33 629.13 L460.29 629.63 L460.25 630.13 L460.21 630.63 L460.17 631.13 L460.13 631.63 L460.08 632.13 L460.04 632.63 L459.99 633.13 L459.94 633.63 L459.89 634.13 L459.84 634.63 L459.78 635.13 L459.72 635.63 L459.65 636.13 L459.58 636.63 L459.51 637.13 L459.44 637.63 L459.36 638.13 L459.28 638.63 L459.20 639.13 L459.12 639.63 L459.03 640.13 L458.94 640.63 L458.85 641.13 L458.76 641.63 L458.67 642.13 L458.57 642.63 L458.48 643.13 L458.38 643.63 L458.28 644.13 L458.17 644.63 L458.06 645.13 L457.95 645.63 L457.83 646.13 L457.71 646.63 L457.59 647.13 L457.47 647.63 L457.34 648.13 L457.21 648.63 L457.08 649.13 L456.95 649.63 L456.81 650.13 L456.68 650.63 L456.54 651.13 L456.41 651.63 L456.27 652.13 L456.14 652.63 L456.00 653.13 L455.87 653.63 L455.73 654.13 L455.60 654.63 L455.47 655.13 L455.33 655.63 L455.20 656.13 L455.07 656.63 L454.93 657.13 L454.79 657.63 L454.66 658.13 L454.52 658.63 L454.38 659.13 L454.24 659.63 L454.10 660.13 L453.96 660.63 L453.82 661.13 L453.67 661.63 L453.53 662.13 L453.38 662.63 L453.23 663.13 L453.08 663.63 L452.93 664.13 L452.77 664.63 L452.62 665.13 L452.46 665.63 L452.30 666.13 L452.14 666.63 L451.98 667.13 L451.82 667.63 L451.65 668.13 L451.49 668.63 L451.33 669.13 L451.16 669.63 L450.99 670.13 L450.82 670.63 L450.65 671.13 L450.47 671.63 L450.29 672.13 L450.11 672.63 L449.92 673.13 L449.73 673.63 L449.53 674.13 L449.32 674.63 L449.11 675.13 L448.90 675.63 L448.68 676.13 L448.45 676.63 L448.20 677.13 L447.92 677.63 L447.63 678.13 L447.32 678.63 L447.01 679.13 L446.71 679.63 L446.40 680.13 L446.12 680.63 L445.85 681.13 L445.58 681.63 L445.33 682.13 L445.08 682.63 L444.83 683.13 L444.58 683.63 L444.33 684.13 L444.07 684.63 L443.80 685.13 L443.52 685.63 L443.23 686.13 L442.92 686.63 L442.59 687.13 L442.24 687.63 L441.87 688.13 L441.49 688.63 L441.08 689.13 L440.66 689.63 L440.23 690.13 L439.78 690.63 L439.32 691.13 L438.86 691.63 L438.38 692.13 L437.90 692.63 L437.41 693.13 L436.91 693.63 L436.42 694.13 L435.92 694.63 L435.42 695.13 L434.92 695.63 L434.42 696.13 L433.90 696.63 L433.37 697.13 L432.81 697.63 L432.25 698.13 L431.67 698.63 L431.09 699.13 L430.51 699.63 L429.92 700.13 L429.34 700.63 L428.76 701.13 L428.18 701.63 L427.62 702.13 L427.07 702.63 L426.54 703.13 L426.02 703.63 L425.53 704.13 L425.06 704.63 L424.59 705.13 L424.13 705.63 L423.68 706.13 L423.22 706.63 L422.77 707.13 L422.33 707.63 L421.89 708.13 L421.47 708.63 L421.05 709.13 L420.65 709.63 L420.25 710.13 L419.88 710.63 L419.51 711.13 L419.16 711.63 L418.83 712.13 L418.52 712.63 L418.23 713.13 L417.96 713.63 L417.69 714.13 L417.42 714.63 L417.16 715.13 L416.90 715.63 L416.66 716.13 L416.43 716.63 L416.22 717.13 L416.03 717.63 L415.85 718.13 L415.70 718.63 L415.58 719.13 L415.48 719.63 L415.38 720.13 L415.30 720.63 L415.23 721.13 L415.18 721.63 L415.17 722.13 L415.20 722.63 L415.28 723.13 L415.39 723.63 L415.53 724.13 L415.70 724.63 L415.88 725.13 L416.08 725.63 L416.28 726.13 L416.48 726.63 L416.71 727.13 L416.97 727.63 L417.27 728.13 L417.60 728.63 L417.95 729.13 L418.32 729.63 L418.72 730.13 L419.13 730.63 L419.56 731.13 L420.00 731.63 L420.45 732.13 L420.91 732.63 L421.37 733.13 L421.84 733.63 L422.33 734.13 L422.85 734.63 L423.40 735.13 L423.98 735.63 L424.58 736.13 L425.20 736.63 L425.83 737.13 L426.47 737.63 L427.12 738.13 L427.78 738.63 L428.44 739.13 L429.10 739.63 L429.76 740.13 L430.41 740.63 L431.05 741.13 L431.68 741.63 L432.32 742.13 L432.96 742.63 L433.61 743.13 L434.27 743.63 L434.92 744.13 L435.58 744.63 L436.24 745.13 L436.91 745.63 L437.57 746.13 L438.23 746.63 L438.89 747.13 L439.54 747.63 L440.19 748.13 L440.84 748.63 L441.48 749.13 L442.11 749.63 L442.74 750.13 L443.37 750.63 L444.01 751.13 L444.64 751.63 L445.29 752.13 L445.93 752.63 L446.57 753.13 L447.21 753.63 L447.84 754.13 L448.46 754.63 L449.08 755.13 L449.68 755.63 L450.28 756.13 L450.86 756.63 L451.42 757.13 L451.96 757.63 L452.48 758.13 L452.99 758.63 L453.47 759.13 L453.94 759.63 L454.40 760.13 L454.86 760.63 L455.31 761.13 L455.74 761.63 L456.17 762.13 L456.59 762.63 L457.00 763.13 L457.40 763.63 L457.79 764.13 L458.17 764.63 L458.54 765.13 L458.90 765.63 L459.25 766.13 L459.58 766.63 L459.90 767.13 L460.21 767.63 L460.51 768.13 L460.81 768.63 L461.09 769.13 L461.37 769.63 L461.64 770.13 L461.90 770.63 L462.15 771.13 L462.39 771.63 L462.63 772.13 L462.86 772.63 L463.08 773.13 L463.30 773.63 L463.51 774.13 L463.71 774.63 L463.90 775.13 L464.07 775.63 L464.23 776.13 L464.38 776.63 L464.53 777.13 L464.68 777.63 L464.83 778.13 L464.99 778.63 L465.17 779.13 L465.36 779.63 L465.57 780.13 L465.82 780.63 L466.08 781.13 L466.15 781.26 L466.85 781.26 L466.92 781.13 L467.18 780.63 L467.43 780.13 L467.64 779.63 L467.83 779.13 L468.01 778.63 L468.17 778.13 L468.32 777.63 L468.47 777.13 L468.62 776.63 L468.77 776.13 L468.93 775.63 L469.10 775.13 L469.29 774.63 L469.49 774.13 L469.70 773.63 L469.92 773.13 L470.14 772.63 L470.37 772.13 L470.61 771.63 L470.85 771.13 L471.10 770.63 L471.36 770.13 L471.63 769.63 L471.91 769.13 L472.19 768.63 L472.49 768.13 L472.79 767.63 L473.10 767.13 L473.42 766.63 L473.75 766.13 L474.10 765.63 L474.46 765.13 L474.83 764.63 L475.21 764.13 L475.60 763.63 L476.00 763.13 L476.41 762.63 L476.83 762.13 L477.26 761.63 L477.69 761.13 L478.14 760.63 L478.60 760.13 L479.06 759.63 L479.53 759.13 L480.01 758.63 L480.52 758.13 L481.04 757.63 L481.58 757.13 L482.14 756.63 L482.72 756.13 L483.32 755.63 L483.92 755.13 L484.54 754.63 L485.16 754.13 L485.79 753.63 L486.43 753.13 L487.07 752.63 L487.71 752.13 L488.36 751.63 L488.99 751.13 L489.63 750.63 L490.26 750.13 L490.89 749.63 L491.52 749.13 L492.16 748.63 L492.81 748.13 L493.46 747.63 L494.11 747.13 L494.77 746.63 L495.43 746.13 L496.09 745.63 L496.76 745.13 L497.42 744.63 L498.08 744.13 L498.73 743.63 L499.39 743.13 L500.04 742.63 L500.68 742.13 L501.32 741.63 L501.95 741.13 L502.59 740.63 L503.24 740.13 L503.90 739.63 L504.56 739.13 L505.22 738.63 L505.88 738.13 L506.53 737.63 L507.17 737.13 L507.80 736.63 L508.42 736.13 L509.02 735.63 L509.60 735.13 L510.15 734.63 L510.67 734.13 L511.16 733.63 L511.63 733.13 L512.09 732.63 L512.55 732.13 L513.00 731.63 L513.44 731.13 L513.87 730.63 L514.28 730.13 L514.68 729.63 L515.05 729.13 L515.40 728.63 L515.73 728.13 L516.03 727.63 L516.29 727.13 L516.52 726.63 L516.72 726.13 L516.92 725.63 L517.12 725.13 L517.30 724.63 L517.47 724.13 L517.61 723.63 L517.72 723.13 L517.80 722.63 L517.83 722.13 L517.82 721.63 L517.77 721.13 L517.70 720.63 L517.62 720.13 L517.52 719.63 L517.42 719.13 L517.30 718.63 L517.15 718.13 L516.97 717.63 L516.78 717.13 L516.57 716.63 L516.34 716.13 L516.10 715.63 L515.84 715.13 L515.58 714.63 L515.31 714.13 L515.04 713.63 L514.77 713.13 L514.48 712.63 L514.17 712.13 L513.84 711.63 L513.49 711.13 L513.12 710.63 L512.75 710.13 L512.35 709.63 L511.95 709.13 L511.53 708.63 L511.11 708.13 L510.67 707.63 L510.23 707.13 L509.78 706.63 L509.32 706.13 L508.87 705.63 L508.41 705.13 L507.94 704.63 L507.47 704.13 L506.98 703.63 L506.46 703.13 L505.93 702.63 L505.38 702.13 L504.82 701.63 L504.24 701.13 L503.66 700.63 L503.08 700.13 L502.49 699.63 L501.91 699.13 L501.33 698.63 L500.75 698.13 L500.19 697.63 L499.63 697.13 L499.10 696.63 L498.58 696.13 L498.08 695.63 L497.58 695.13 L497.08 694.63 L496.58 694.13 L496.09 693.63 L495.59 693.13 L495.10 692.63 L494.62 692.13 L494.14 691.63 L493.68 691.13 L493.22 690.63 L492.77 690.13 L492.34 689.63 L491.92 689.13 L491.51 688.63 L491.13 688.13 L490.76 687.63 L490.41 687.13 L490.08 686.63 L489.77 686.13 L489.48 685.63 L489.20 685.13 L488.93 684.63 L488.67 684.13 L488.42 683.63 L488.17 683.13 L487.92 682.63 L487.67 682.13 L487.42 681.63 L487.15 681.13 L486.88 680.63 L486.60 680.13 L486.29 679.63 L485.99 679.13 L485.68 678.63 L485.37 678.13 L485.08 677.63 L484.80 677.13 L484.55 676.63 L484.32 676.13 L484.10 675.63 L483.89 675.13 L483.68 674.63 L483.47 674.13 L483.27 673.63 L483.08 673.13 L482.89 672.63 L482.71 672.13 L482.53 671.63 L482.35 671.13 L482.18 670.63 L482.01 670.13 L481.84 669.63 L481.67 669.13 L481.51 668.63 L481.35 668.13 L481.18 667.63 L481.02 667.13 L480.86 666.63 L480.70 666.13 L480.54 665.63 L480.38 665.13 L480.23 664.63 L480.07 664.13 L479.92 663.63 L479.77 663.13 L479.62 662.63 L479.47 662.13 L479.33 661.63 L479.18 661.13 L479.04 660.63 L478.90 660.13 L478.76 659.63 L478.62 659.13 L478.48 658.63 L478.34 658.13 L478.21 657.63 L478.07 657.13 L477.93 656.63 L477.80 656.13 L477.67 655.63 L477.53 655.13 L477.40 654.63 L477.27 654.13 L477.13 653.63 L477.00 653.13 L476.86 652.63 L476.73 652.13 L476.59 651.63 L476.46 651.13 L476.32 650.63 L476.19 650.13 L476.05 649.63 L475.92 649.13 L475.79 648.63 L475.66 648.13 L475.53 647.63 L475.41 647.13 L475.29 646.63 L475.17 646.13 L475.05 645.63 L474.94 645.13 L474.83 644.63 L474.72 644.13 L474.62 643.63 L474.52 643.13 L474.43 642.63 L474.33 642.13 L474.24 641.63 L474.15 641.13 L474.06 640.63 L473.97 640.13 L473.88 639.63 L473.80 639.13 L473.72 638.63 L473.64 638.13 L473.56 637.63 L473.49 637.13 L473.42 636.63 L473.35 636.13 L473.28 635.63 L473.22 635.13 L473.16 634.63 L473.11 634.13 L473.06 633.63 L473.01 633.13 L472.96 632.63 L472.92 632.13 L472.87 631.63 L472.83 631.13 L472.79 630.63 L472.75 630.13 L472.71 629.63 L472.67 629.13 L472.63 628.63 L472.59 628.13 L472.56 627.63 L472.52 627.13 L472.48 626.63 L472.45 626.13 L472.41 625.63 L472.37 625.13 L472.33 624.63 L472.29 624.13 L472.25 623.63 L472.21 623.13 L472.17 622.63 L472.13 622.13 L472.09 621.63 L472.05 621.13 L472.01 620.63 L471.98 620.13 L471.94 619.63 L471.90 619.13 L471.86 618.63 L471.82 618.13 L471.78 617.63 L471.74 617.13 L471.70 616.63 L471.66 616.13 L471.61 615.63 L471.57 615.13 L471.52 614.63 L471.47 614.13 L471.41 613.63 L471.36 613.13 L471.30 612.63 L471.24 612.13 L471.18 611.63 L471.11 611.13 L471.04 610.63 L470.97 610.13 L470.90 609.63 L470.82 609.13 L470.75 608.63 L470.67 608.13 L470.59 607.63 L470.51 607.13 L470.43 606.63 L470.34 606.13 L470.26 605.63 L470.18 605.13 L470.09 604.63 L470.01 604.13 L469.93 603.63 L469.85 603.13 L469.76 602.63 L469.67 602.13 L469.58 601.63 L469.49 601.13 L469.40 600.63 L469.30 600.13 L469.20 599.63 L469.10 599.13 L469.00 598.63 L468.90 598.13 L468.80 597.63 L468.70 597.13 L468.60 596.63 L468.51 596.13 L468.41 595.63 L468.32 595.13 L468.23 594.63 L468.15 594.13 L468.07 593.63 L467.99 593.13 L467.92 592.63 L467.85 592.13 L467.78 591.63 L467.72 591.13 L467.65 590.63 L467.59 590.13 L467.52 589.63 L467.46 589.13 L467.40 588.63 L467.34 588.13 L467.28 587.63 L467.23 587.13 L467.17 586.63 L467.12 586.13 L467.06 585.63 L467.01 585.13 L466.96 584.63 L466.92 584.13 L466.87 583.63 L466.83 583.13 L466.79 582.63 L466.75 582.13 L466.71 581.63 L466.68 581.13 Z" fill="#606060" stroke="#333333" stroke-width="0.95" stroke-linejoin="round"/>
<line x1="466.50" x2="466.50" y1="654.70" y2="748.30" stroke="#3a3a3a" stroke-width="0.85"/>
<line x1="466.50" x2="466.50" y1="694.70" y2="729.80" stroke="#3a3a3a" stroke-width="2.75" stroke-linecap="round"/>
<circle cx="466.50" cy="716.40" r="0.75" fill="#fff"/>
<path d="M610.79 619.82 L610.70 620.32 L610.61 620.82 L610.52 621.32 L610.43 621.82 L610.34 622.32 L610.25 622.82 L610.16 623.32 L610.06 623.82 L609.97 624.32 L609.87 624.82 L609.77 625.32 L609.68 625.82 L609.58 626.32 L609.48 626.82 L609.38 627.32 L609.27 627.82 L609.17 628.32 L609.07 628.82 L608.95 629.32 L608.84 629.82 L608.72 630.32 L608.59 630.82 L608.46 631.32 L608.34 631.82 L608.21 632.32 L608.08 632.82 L607.96 633.32 L607.84 633.82 L607.73 634.32 L607.62 634.82 L607.52 635.32 L607.43 635.82 L607.34 636.32 L607.27 636.82 L607.20 637.32 L607.13 637.82 L607.06 638.32 L607.00 638.82 L606.93 639.32 L606.87 639.82 L606.82 640.32 L606.77 640.82 L606.73 641.32 L606.70 641.82 L606.68 642.32 L606.67 642.82 L606.68 643.32 L606.69 643.82 L606.71 644.32 L606.74 644.82 L606.78 645.32 L606.83 645.82 L606.87 646.32 L606.93 646.82 L606.99 647.32 L607.05 647.82 L607.12 648.32 L607.18 648.82 L607.25 649.32 L607.32 649.82 L607.39 650.32 L607.46 650.82 L607.53 651.32 L607.62 651.82 L607.72 652.32 L607.84 652.82 L607.97 653.32 L608.10 653.82 L608.24 654.32 L608.37 654.82 L608.50 655.32 L608.62 655.82 L608.73 656.32 L608.81 656.82 L608.88 657.32 L608.92 657.82 L608.94 658.32 L608.94 658.82 L608.93 659.32 L608.92 659.82 L608.91 660.32 L608.90 660.82 L608.88 661.32 L608.86 661.82 L608.84 662.32 L608.82 662.82 L608.80 663.32 L608.77 663.82 L608.74 664.32 L608.70 664.82 L608.62 665.32 L608.50 665.82 L608.35 666.32 L608.17 666.82 L607.97 667.32 L607.74 667.82 L607.49 668.32 L607.23 668.82 L606.96 669.32 L606.68 669.82 L606.40 670.32 L606.11 670.82 L605.83 671.32 L605.56 671.82 L605.27 672.32 L604.96 672.82 L604.64 673.32 L604.30 673.82 L603.94 674.32 L603.57 674.82 L603.19 675.32 L602.80 675.82 L602.40 676.32 L602.00 676.82 L601.59 677.32 L601.18 677.82 L600.77 678.32 L600.35 678.82 L599.94 679.32 L599.53 679.82 L599.12 680.32 L598.72 680.82 L598.31 681.32 L597.90 681.82 L597.48 682.32 L597.06 682.82 L596.64 683.32 L596.22 683.82 L595.78 684.32 L595.35 684.82 L594.90 685.32 L594.45 685.82 L594.00 686.32 L593.53 686.82 L593.06 687.32 L592.57 687.82 L592.08 688.32 L591.58 688.82 L591.07 689.32 L590.54 689.82 L590.01 690.32 L589.47 690.82 L588.92 691.32 L588.36 691.82 L587.79 692.32 L587.20 692.82 L586.61 693.32 L586.01 693.82 L585.39 694.32 L584.77 694.82 L584.13 695.32 L583.48 695.82 L582.82 696.32 L582.14 696.82 L581.46 697.32 L580.76 697.82 L580.05 698.32 L579.32 698.82 L578.54 699.32 L577.73 699.82 L576.89 700.32 L576.02 700.82 L575.14 701.32 L574.24 701.82 L573.33 702.32 L572.42 702.82 L571.52 703.32 L570.62 703.82 L569.74 704.32 L568.88 704.82 L568.05 705.32 L567.24 705.82 L566.43 706.32 L565.61 706.82 L564.79 707.32 L563.97 707.82 L563.16 708.32 L562.37 708.82 L561.60 709.32 L560.86 709.82 L560.15 710.32 L559.48 710.82 L558.86 711.32 L558.28 711.82 L557.72 712.32 L557.16 712.82 L556.60 713.32 L556.06 713.82 L555.55 714.32 L555.08 714.82 L554.66 715.32 L554.30 715.82 L554.02 716.32 L553.83 716.82 L553.71 717.32 L553.59 717.82 L553.49 718.32 L553.39 718.82 L553.32 719.32 L553.25 719.82 L553.21 720.32 L553.19 720.82 L553.19 721.32 L553.22 721.82 L553.27 722.32 L553.33 722.82 L553.42 723.32 L553.51 723.82 L553.62 724.32 L553.72 724.82 L553.83 725.32 L553.94 725.82 L554.05 726.32 L554.15 726.82 L554.23 727.32 L554.31 727.82 L554.39 728.32 L554.46 728.82 L554.54 729.32 L554.61 729.82 L554.68 730.32 L554.76 730.82 L554.84 731.32 L554.93 731.82 L555.02 732.32 L555.12 732.82 L555.23 733.32 L555.35 733.82 L555.48 734.32 L555.63 734.82 L555.78 735.32 L555.95 735.82 L556.14 736.32 L556.33 736.82 L556.55 737.32 L556.78 737.82 L557.03 738.32 L557.29 738.82 L557.58 739.32 L557.89 739.82 L558.28 740.32 L558.74 740.82 L559.26 741.32 L559.85 741.82 L560.48 742.32 L561.16 742.82 L561.87 743.32 L562.61 743.82 L563.36 744.32 L564.14 744.82 L564.91 745.32 L565.69 745.82 L566.50 746.32 L567.37 746.82 L568.29 747.32 L569.25 747.82 L570.24 748.32 L571.27 748.82 L572.32 749.32 L573.38 749.82 L574.46 750.32 L575.53 750.82 L576.60 751.32 L577.67 751.82 L578.71 752.32 L579.73 752.82 L580.73 753.32 L581.74 753.82 L582.75 754.32 L583.77 754.82 L584.79 755.32 L585.81 755.82 L586.82 756.32 L587.84 756.82 L588.85 757.32 L589.85 757.82 L590.84 758.32 L591.83 758.82 L592.80 759.32 L593.76 759.82 L594.71 760.32 L595.67 760.82 L596.64 761.32 L597.61 761.82 L598.57 762.32 L599.52 762.82 L600.44 763.32 L601.32 763.82 L602.16 764.32 L602.94 764.82 L603.67 765.32 L604.30 765.82 L604.85 766.32 L605.36 766.82 L605.84 767.32 L606.34 767.82 L606.88 768.32 L607.50 768.82 L608.23 769.32 L609.19 769.82 L610.37 770.32 L610.58 770.40 L611.82 770.40 L612.03 770.32 L613.21 769.82 L614.17 769.32 L614.90 768.82 L615.52 768.32 L616.06 767.82 L616.56 767.32 L617.04 766.82 L617.55 766.32 L618.10 765.82 L618.73 765.32 L619.46 764.82 L620.24 764.32 L621.08 763.82 L621.96 763.32 L622.88 762.82 L623.83 762.32 L624.79 761.82 L625.76 761.32 L626.73 760.82 L627.69 760.32 L628.64 759.82 L629.60 759.32 L630.57 758.82 L631.56 758.32 L632.55 757.82 L633.55 757.32 L634.56 756.82 L635.58 756.32 L636.59 755.82 L637.61 755.32 L638.63 754.82 L639.65 754.32 L640.66 753.82 L641.67 753.32 L642.67 752.82 L643.69 752.32 L644.73 751.82 L645.80 751.32 L646.87 750.82 L647.94 750.32 L649.02 749.82 L650.08 749.32 L651.13 748.82 L652.16 748.32 L653.15 747.82 L654.11 747.32 L655.03 746.82 L655.90 746.32 L656.71 745.82 L657.49 745.32 L658.26 744.82 L659.04 744.32 L659.79 743.82 L660.53 743.32 L661.24 742.82 L661.92 742.32 L662.55 741.82 L663.14 741.32 L663.66 740.82 L664.12 740.32 L664.51 739.82 L664.82 739.32 L665.11 738.82 L665.37 738.32 L665.62 737.82 L665.85 737.32 L666.07 736.82 L666.26 736.32 L666.45 735.82 L666.62 735.32 L666.77 734.82 L666.92 734.32 L667.05 733.82 L667.17 733.32 L667.28 732.82 L667.38 732.32 L667.47 731.82 L667.56 731.32 L667.64 730.82 L667.72 730.32 L667.79 729.82 L667.86 729.32 L667.94 728.82 L668.01 728.32 L668.09 727.82 L668.17 727.32 L668.25 726.82 L668.35 726.32 L668.46 725.82 L668.57 725.32 L668.68 724.82 L668.78 724.32 L668.89 723.82 L668.98 723.32 L669.07 722.82 L669.13 722.32 L669.18 721.82 L669.21 721.32 L669.21 720.82 L669.19 720.32 L669.15 719.82 L669.08 719.32 L669.01 718.82 L668.91 718.32 L668.81 717.82 L668.69 717.32 L668.57 716.82 L668.38 716.32 L668.10 715.82 L667.74 715.32 L667.32 714.82 L666.85 714.32 L666.34 713.82 L665.80 713.32 L665.24 712.82 L664.68 712.32 L664.12 711.82 L663.54 711.32 L662.92 710.82 L662.25 710.32 L661.54 709.82 L660.80 709.32 L660.03 708.82 L659.24 708.32 L658.43 707.82 L657.61 707.32 L656.79 706.82 L655.97 706.32 L655.16 705.82 L654.35 705.32 L653.52 704.82 L652.66 704.32 L651.78 703.82 L650.88 703.32 L649.98 702.82 L649.07 702.32 L648.16 701.82 L647.26 701.32 L646.38 700.82 L645.51 700.32 L644.67 699.82 L643.86 699.32 L643.08 698.82 L642.35 698.32 L641.64 697.82 L640.94 697.32 L640.26 696.82 L639.58 696.32 L638.92 695.82 L638.27 695.32 L637.63 694.82 L637.01 694.32 L636.39 693.82 L635.79 693.32 L635.20 692.82 L634.61 692.32 L634.04 691.82 L633.48 691.32 L632.93 690.82 L632.39 690.32 L631.86 689.82 L631.33 689.32 L630.82 688.82 L630.32 688.32 L629.83 687.82 L629.34 687.32 L628.87 686.82 L628.40 686.32 L627.95 685.82 L627.50 685.32 L627.05 684.82 L626.62 684.32 L626.18 683.82 L625.76 683.32 L625.34 682.82 L624.92 682.32 L624.50 681.82 L624.09 681.32 L623.68 680.82 L623.28 680.32 L622.87 679.82 L622.46 679.32 L622.05 678.82 L621.63 678.32 L621.22 677.82 L620.81 677.32 L620.40 676.82 L620.00 676.32 L619.60 675.82 L619.21 675.32 L618.83 674.82 L618.46 674.32 L618.10 673.82 L617.76 673.32 L617.44 672.82 L617.13 672.32 L616.84 671.82 L616.57 671.32 L616.29 670.82 L616.00 670.32 L615.72 669.82 L615.44 669.32 L615.17 668.82 L614.91 668.32 L614.66 667.82 L614.43 667.32 L614.23 666.82 L614.05 666.32 L613.90 665.82 L613.78 665.32 L613.70 664.82 L613.66 664.32 L613.63 663.82 L613.60 663.32 L613.58 662.82 L613.56 662.32 L613.54 661.82 L613.52 661.32 L613.50 660.82 L613.49 660.32 L613.48 659.82 L613.47 659.32 L613.46 658.82 L613.46 658.32 L613.48 657.82 L613.52 657.32 L613.59 656.82 L613.67 656.32 L613.78 655.82 L613.90 655.32 L614.03 654.82 L614.16 654.32 L614.30 653.82 L614.43 653.32 L614.56 652.82 L614.68 652.32 L614.78 651.82 L614.87 651.32 L614.94 650.82 L615.01 650.32 L615.08 649.82 L615.15 649.32 L615.22 648.82 L615.28 648.32 L615.35 647.82 L615.41 647.32 L615.47 646.82 L615.53 646.32 L615.57 645.82 L615.62 645.32 L615.66 644.82 L615.69 644.32 L615.71 643.82 L615.72 643.32 L615.73 642.82 L615.72 642.32 L615.70 641.82 L615.67 641.32 L615.63 640.82 L615.58 640.32 L615.53 639.82 L615.47 639.32 L615.40 638.82 L615.34 638.32 L615.27 637.82 L615.20 637.32 L615.13 636.82 L615.06 636.32 L614.97 635.82 L614.88 635.32 L614.78 634.82 L614.67 634.32 L614.56 633.82 L614.44 633.32 L614.32 632.82 L614.19 632.32 L614.06 631.82 L613.94 631.32 L613.81 630.82 L613.68 630.32 L613.56 629.82 L613.45 629.32 L613.33 628.82 L613.23 628.32 L613.13 627.82 L613.02 627.32 L612.92 626.82 L612.82 626.32 L612.72 625.82 L612.63 625.32 L612.53 624.82 L612.43 624.32 L612.34 623.82 L612.24 623.32 L612.15 622.82 L612.06 622.32 L611.97 621.82 L611.88 621.32 L611.79 620.82 L611.70 620.32 L611.61 619.82 Z" fill="#C3D234" stroke="#333333" stroke-width="0.95" stroke-linejoin="round"/>
<line x1="611.20" x2="611.20" y1="681.90" y2="747.80" stroke="#3a3a3a" stroke-width="0.85"/>
<line x1="611.20" x2="611.20" y1="709.70" y2="741.00" stroke="#3a3a3a" stroke-width="2.75" stroke-linecap="round"/>
<circle cx="611.20" cy="719.00" r="0.75" fill="#fff"/>
<rect x="394.15" y="571.50" width="289.40" height="218.80" fill="none" stroke="#848484" stroke-width="1"/>
<line x1="391.55" x2="394.15" y1="750.40" y2="750.40" stroke="#555" stroke-width="0.8"/><text class="yt" transform="translate(389.35 753.20) scale(0.86 1)">0</text>
<line x1="391.55" x2="394.15" y1="704.10" y2="704.10" stroke="#555" stroke-width="0.8"/><text class="yt" transform="translate(389.35 706.90) scale(0.86 1)">2</text>
<line x1="391.55" x2="394.15" y1="657.80" y2="657.80" stroke="#555" stroke-width="0.8"/><text class="yt" transform="translate(389.35 660.60) scale(0.86 1)">4</text>
<line x1="391.55" x2="394.15" y1="611.50" y2="611.50" stroke="#555" stroke-width="0.8"/><text class="yt" transform="translate(389.35 614.30) scale(0.86 1)">6</text>
<line x1="466.50" x2="466.50" y1="790.30" y2="792.90" stroke="#555" stroke-width="0.8"/><text class="xl" transform="translate(466.20 801.40) scale(0.95 1)">NC</text>
<line x1="611.20" x2="611.20" y1="790.30" y2="792.90" stroke="#555" stroke-width="0.8"/><text class="xl" transform="translate(610.90 801.40) scale(0.95 1)">DL</text>
<text class="t" transform="translate(538.65 567.70) scale(1.005 1)">Direct ASC-WNL</text>
<text class="yl" transform="translate(381.30 682.70) rotate(-90) scale(1.045 1)">MAE (Gy)</text>
</g>
</svg>
</body></html>
